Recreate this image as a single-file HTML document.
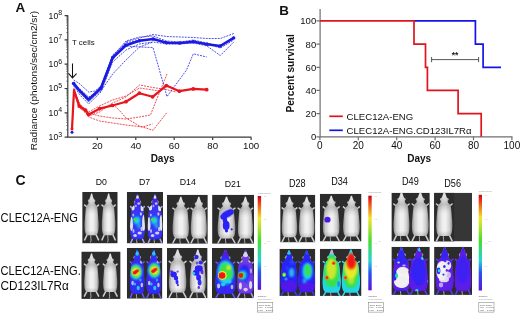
<!DOCTYPE html><html><head><meta charset="utf-8"><title>Figure</title>
<style>html,body{margin:0;padding:0;background:#fff;overflow:hidden;width:520px;height:313px;}svg{display:block;font-family:"Liberation Sans", Arial, sans-serif;}</style></head><body>
<svg width="520" height="313" viewBox="0 0 520 313">
<defs>
<filter id="b03" x="-20%" y="-20%" width="140%" height="140%"><feGaussianBlur stdDeviation="0.3"/></filter>
<filter id="b05" x="-20%" y="-20%" width="140%" height="140%"><feGaussianBlur stdDeviation="0.5"/></filter>
<filter id="b1" x="-30%" y="-30%" width="160%" height="160%"><feGaussianBlur stdDeviation="0.9"/></filter>
<filter id="b2" x="-40%" y="-40%" width="180%" height="180%"><feGaussianBlur stdDeviation="1.6"/></filter>
<linearGradient id="mg" x1="0" y1="0" x2="1" y2="0"><stop offset="0" stop-color="#8a8a8a"/><stop offset="0.16" stop-color="#cccccc"/><stop offset="0.42" stop-color="#f0f0f0"/><stop offset="0.6" stop-color="#f0f0f0"/><stop offset="0.84" stop-color="#cccccc"/><stop offset="1" stop-color="#8a8a8a"/></linearGradient>
<linearGradient id="ms" x1="0" y1="0" x2="0" y2="1"><stop offset="0" stop-color="#000" stop-opacity="0.04"/><stop offset="0.16" stop-color="#000" stop-opacity="0.10"/><stop offset="0.28" stop-color="#000" stop-opacity="0.20"/><stop offset="0.42" stop-color="#000" stop-opacity="0.05"/><stop offset="0.5" stop-color="#000" stop-opacity="0"/><stop offset="0.88" stop-color="#000" stop-opacity="0"/><stop offset="1" stop-color="#000" stop-opacity="0.16"/></linearGradient>
<linearGradient id="cb" x1="0" y1="0" x2="0" y2="1">
<stop offset="0" stop-color="#b80c10"/><stop offset="0.03" stop-color="#e41418"/><stop offset="0.12" stop-color="#f0701e"/><stop offset="0.24" stop-color="#f0e628"/><stop offset="0.36" stop-color="#a0e030"/><stop offset="0.48" stop-color="#46dc32"/><stop offset="0.6" stop-color="#30d890"/><stop offset="0.69" stop-color="#28d2d8"/><stop offset="0.82" stop-color="#2850f0"/><stop offset="1" stop-color="#5a14dc"/></linearGradient>

</defs>
<rect width="520" height="313" fill="#fff"/>
<text x="15.6" y="12.2" font-size="13.5" font-weight="700" fill="#111">A</text>
<text x="279.3" y="14.8" font-size="13.4" font-weight="700" fill="#111">B</text>
<text x="15.6" y="185" font-size="14" font-weight="700" fill="#111">C</text>
<g id="panelA">
<g stroke="#3a3a3a" stroke-width="1.2" fill="none">
<path d="M67.8,15.2 V137.2 H251.4"/>
<path d="M64.6,137.1 H67.8 M64.6,112.8 H67.8 M64.6,88.5 H67.8 M64.6,64.2 H67.8 M64.6,39.9 H67.8 M64.6,15.6 H67.8 "/>
<path d="M66.0,129.8 H67.8 M66.0,125.5 H67.8 M66.0,122.5 H67.8 M66.0,120.1 H67.8 M66.0,118.2 H67.8 M66.0,116.6 H67.8 M66.0,115.2 H67.8 M66.0,113.9 H67.8 M66.0,105.5 H67.8 M66.0,101.2 H67.8 M66.0,98.2 H67.8 M66.0,95.8 H67.8 M66.0,93.9 H67.8 M66.0,92.3 H67.8 M66.0,90.9 H67.8 M66.0,89.6 H67.8 M66.0,81.2 H67.8 M66.0,76.9 H67.8 M66.0,73.9 H67.8 M66.0,71.5 H67.8 M66.0,69.6 H67.8 M66.0,68.0 H67.8 M66.0,66.6 H67.8 M66.0,65.3 H67.8 M66.0,56.9 H67.8 M66.0,52.6 H67.8 M66.0,49.6 H67.8 M66.0,47.2 H67.8 M66.0,45.3 H67.8 M66.0,43.7 H67.8 M66.0,42.3 H67.8 M66.0,41.0 H67.8 M66.0,32.6 H67.8 M66.0,28.3 H67.8 M66.0,25.3 H67.8 M66.0,22.9 H67.8 M66.0,21.0 H67.8 M66.0,19.4 H67.8 M66.0,18.0 H67.8 M66.0,16.7 H67.8 " stroke-width="0.5"/>
<path d="M97.3,137.2 V140.1 M135.8,137.2 V140.1 M174.2,137.2 V140.1 M212.7,137.2 V140.1 M251.1,137.2 V140.1 "/>
</g>
<text x="48.6" y="140.0" font-size="9.5" fill="#111" textLength="9.6" lengthAdjust="spacingAndGlyphs">10</text><text x="58.3" y="136.5" font-size="7" fill="#111">3</text>
<text x="48.6" y="115.7" font-size="9.5" fill="#111" textLength="9.6" lengthAdjust="spacingAndGlyphs">10</text><text x="58.3" y="112.2" font-size="7" fill="#111">4</text>
<text x="48.6" y="91.4" font-size="9.5" fill="#111" textLength="9.6" lengthAdjust="spacingAndGlyphs">10</text><text x="58.3" y="87.9" font-size="7" fill="#111">5</text>
<text x="48.6" y="67.1" font-size="9.5" fill="#111" textLength="9.6" lengthAdjust="spacingAndGlyphs">10</text><text x="58.3" y="63.6" font-size="7" fill="#111">6</text>
<text x="48.6" y="42.8" font-size="9.5" fill="#111" textLength="9.6" lengthAdjust="spacingAndGlyphs">10</text><text x="58.3" y="39.3" font-size="7" fill="#111">7</text>
<text x="48.6" y="18.5" font-size="9.5" fill="#111" textLength="9.6" lengthAdjust="spacingAndGlyphs">10</text><text x="58.3" y="15.0" font-size="7" fill="#111">8</text>
<text x="97.3" y="149.4" font-size="9.7" fill="#111" text-anchor="middle">20</text>
<text x="135.8" y="149.4" font-size="9.7" fill="#111" text-anchor="middle">40</text>
<text x="174.2" y="149.4" font-size="9.7" fill="#111" text-anchor="middle">60</text>
<text x="212.7" y="149.4" font-size="9.7" fill="#111" text-anchor="middle">80</text>
<text x="251.1" y="149.4" font-size="9.7" fill="#111" text-anchor="middle">100</text>
<text x="162.6" y="161.5" font-size="10" font-weight="700" fill="#111" text-anchor="middle">Days</text>
<text transform="translate(37.2,150.3) scale(0.9,1) rotate(-90)" font-size="10.08" fill="#111">Radiance (photons/sec/cm2/sr)</text>
<text x="72" y="45.1" font-size="7.9" fill="#111">T cells</text>
<path d="M72.5,63.4 V77.4 M68.5,73.3 L72.5,77.9 L76.5,73.6" stroke="#111" stroke-width="1.05" fill="none"/>
<path d="M72.0,129.0 L74.0,88.0 L79.0,104.0 L88.6,116.0 L99.5,112.0 L112.5,103.0 L126.0,97.0 L139.5,85.0 L153.0,87.5 L166.0,89.5 L176.0,92.0" stroke="#e8141e" stroke-width="0.75" fill="none" stroke-linejoin="round" stroke-linecap="butt" stroke-dasharray="2 1" opacity="1"/>
<path d="M74.0,92.0 L79.0,108.0 L88.6,112.0 L99.5,106.0 L112.5,100.0 L126.0,96.0 L139.5,88.0 L153.0,90.0 L160.0,91.0" stroke="#e8141e" stroke-width="0.75" fill="none" stroke-linejoin="round" stroke-linecap="butt" stroke-dasharray="2 1" opacity="1"/>
<path d="M74.0,90.0 L80.0,106.0 L88.6,117.0 L99.5,121.0 L112.5,123.0 L126.0,125.0 L142.8,127.0 L152.5,124.0" stroke="#e8141e" stroke-width="0.75" fill="none" stroke-linejoin="round" stroke-linecap="butt" stroke-dasharray="2 1" opacity="1"/>
<path d="M74.0,91.0 L80.0,104.0 L88.6,113.0 L99.5,116.0 L112.5,118.0 L126.0,119.0 L139.5,117.0 L150.5,115.0 L155.6,102.0 L167.0,74.0" stroke="#e8141e" stroke-width="0.75" fill="none" stroke-linejoin="round" stroke-linecap="butt" stroke-dasharray="2 1" opacity="1"/>
<path d="M74.0,93.0 L80.0,108.0 L88.6,115.0 L99.5,110.0 L112.5,104.0 L119.0,110.0 L126.0,118.0 L139.5,126.0 L153.0,130.3 L167.0,112.4" stroke="#e8141e" stroke-width="0.75" fill="none" stroke-linejoin="round" stroke-linecap="butt" stroke-dasharray="2 1" opacity="1"/>
<path d="M73.6,82.0 L79.0,88.0 L88.6,97.0 L101.0,90.0 L112.7,60.0 L126.0,42.0 L139.5,38.0 L153.0,34.5 L166.5,36.5 L180.0,37.0 L193.4,37.5 L207.0,38.5 L220.3,38.5 L233.8,33.5" stroke="#1a1ae0" stroke-width="0.75" fill="none" stroke-linejoin="round" stroke-linecap="butt" stroke-dasharray="2 1" opacity="1"/>
<path d="M73.6,80.0 L80.0,84.0 L88.6,92.0 L95.0,91.0 L101.0,86.0 L112.7,56.0 L126.0,41.0 L139.5,37.0 L153.0,36.0 L166.5,41.0 L180.0,42.0 L193.4,40.0 L207.0,43.0 L220.3,47.0 L233.8,37.0" stroke="#1a1ae0" stroke-width="0.75" fill="none" stroke-linejoin="round" stroke-linecap="butt" stroke-dasharray="2 1" opacity="1"/>
<path d="M73.6,86.0 L80.0,95.0 L88.6,104.0 L101.0,92.0 L112.7,62.0 L126.0,50.0 L139.5,44.0 L153.0,42.0 L166.5,44.0 L180.0,44.0 L193.4,43.0 L207.0,46.0 L220.3,55.5 L233.8,42.0" stroke="#1a1ae0" stroke-width="0.75" fill="none" stroke-linejoin="round" stroke-linecap="butt" stroke-dasharray="2 1" opacity="1"/>
<path d="M73.6,84.0 L80.0,92.0 L88.6,102.0 L101.0,89.0 L112.7,58.0 L126.0,46.0 L139.5,47.0 L153.0,47.5 L167.0,96.6 L186.5,70.0 L193.3,53.8 L206.7,57.0" stroke="#1a1ae0" stroke-width="0.75" fill="none" stroke-linejoin="round" stroke-linecap="butt" stroke-dasharray="2 1" opacity="1"/>
<path d="M73.6,85.0 L80.0,93.0 L88.6,101.0 L101.0,91.0 L112.7,74.0 L126.0,60.0 L139.5,47.0 L153.0,42.0" stroke="#1a1ae0" stroke-width="0.75" fill="none" stroke-linejoin="round" stroke-linecap="butt" stroke-dasharray="2 1" opacity="1"/>
<path d="M73.6,83.0 L80.0,90.0 L88.6,98.0 L101.0,87.0 L112.7,55.0 L126.0,43.0 L139.5,40.0 L153.0,39.0 L166.5,42.0 L180.0,43.5 L193.4,42.0 L207.0,44.0 L220.3,48.0 L233.8,40.0" stroke="#1a1ae0" stroke-width="0.75" fill="none" stroke-linejoin="round" stroke-linecap="butt" stroke-dasharray="2 1" opacity="1"/>
<path d="M73.6,83.5 L79.0,90.0 L88.6,99.6 L101.0,88.0 L112.6,57.7 L126.0,45.2 L139.4,40.8 L153.2,39.0 L166.4,42.7 L179.8,43.0 L193.3,41.7 L207.2,44.2 L220.2,46.0 L233.7,37.9" stroke="#1a1ae0" stroke-width="2.6" fill="none" stroke-linejoin="round" stroke-linecap="round" opacity="1"/>
<circle cx="101" cy="88" r="1.7" fill="#1a1ae0"/>
<circle cx="112.6" cy="57.7" r="1.7" fill="#1a1ae0"/>
<circle cx="126" cy="45.2" r="1.7" fill="#1a1ae0"/>
<circle cx="139.4" cy="40.8" r="1.7" fill="#1a1ae0"/>
<circle cx="153.2" cy="39" r="1.7" fill="#1a1ae0"/>
<circle cx="166.4" cy="42.7" r="1.7" fill="#1a1ae0"/>
<circle cx="179.8" cy="43" r="1.7" fill="#1a1ae0"/>
<circle cx="193.3" cy="41.7" r="1.7" fill="#1a1ae0"/>
<circle cx="207.2" cy="44.2" r="1.7" fill="#1a1ae0"/>
<circle cx="220.2" cy="46" r="1.7" fill="#1a1ae0"/>
<circle cx="233.7" cy="37.9" r="1.7" fill="#1a1ae0"/>
<circle cx="73.6" cy="83.5" r="1.8" fill="#1a1ae0"/>
<path d="M72.0,129.0 L74.0,90.2 L79.2,106.0 L85.6,110.0 L88.6,114.5 L99.6,108.6 L112.4,105.5 L126.0,101.7 L139.4,93.2 L152.6,96.8 L166.3,85.6 L179.4,91.2 L193.2,88.9 L206.7,89.7" stroke="#e8141e" stroke-width="2.2" fill="none" stroke-linejoin="round" stroke-linecap="round" opacity="1"/>
<circle cx="79.2" cy="106" r="1.85" fill="#e8141e"/>
<circle cx="85.6" cy="110" r="1.85" fill="#e8141e"/>
<circle cx="88.6" cy="114.5" r="1.85" fill="#e8141e"/>
<circle cx="99.6" cy="108.6" r="1.85" fill="#e8141e"/>
<circle cx="112.4" cy="105.5" r="1.85" fill="#e8141e"/>
<circle cx="126" cy="101.7" r="1.85" fill="#e8141e"/>
<circle cx="139.4" cy="93.2" r="1.85" fill="#e8141e"/>
<circle cx="152.6" cy="96.8" r="1.85" fill="#e8141e"/>
<circle cx="166.3" cy="85.6" r="1.85" fill="#e8141e"/>
<circle cx="179.4" cy="91.2" r="1.85" fill="#e8141e"/>
<circle cx="193.2" cy="88.9" r="1.85" fill="#e8141e"/>
<circle cx="206.7" cy="89.7" r="1.85" fill="#e8141e"/>
<circle cx="72" cy="132.2" r="1.5" fill="#1a1ae0"/>
<circle cx="72" cy="129" r="1.5" fill="#e8141e"/>
</g>
<g id="panelB">
<g stroke="#707070" stroke-width="1.2" fill="none">
<path d="M320.09999999999997,9.0 V136.8 H512.4"/>
<path d="M316.5,136.8 H319.9 M316.5,113.6 H319.9 M316.5,90.4 H319.9 M316.5,67.3 H319.9 M316.5,44.1 H319.9 M316.5,20.9 H319.9 M319.9,136.8 V140.20000000000002 M358.3,136.8 V140.20000000000002 M396.7,136.8 V140.20000000000002 M435.1,136.8 V140.20000000000002 M473.5,136.8 V140.20000000000002 M511.9,136.8 V140.20000000000002 "/>
</g>
<text x="316.2" y="140.2" font-size="9.5" fill="#111" text-anchor="end">0</text>
<text x="316.2" y="117.0" font-size="9.5" fill="#111" text-anchor="end">20</text>
<text x="316.2" y="93.8" font-size="9.5" fill="#111" text-anchor="end">40</text>
<text x="316.2" y="70.7" font-size="9.5" fill="#111" text-anchor="end">60</text>
<text x="316.2" y="47.5" font-size="9.5" fill="#111" text-anchor="end">80</text>
<text x="316.2" y="24.3" font-size="9.5" fill="#111" text-anchor="end">100</text>
<text x="319.9" y="149.2" font-size="10" fill="#111" text-anchor="middle">0</text>
<text x="358.3" y="149.2" font-size="10" fill="#111" text-anchor="middle">20</text>
<text x="396.7" y="149.2" font-size="10" fill="#111" text-anchor="middle">40</text>
<text x="435.1" y="149.2" font-size="10" fill="#111" text-anchor="middle">60</text>
<text x="473.5" y="149.2" font-size="10" fill="#111" text-anchor="middle">80</text>
<text x="511.9" y="149.2" font-size="10" fill="#111" text-anchor="middle">100</text>
<text x="419.2" y="161.8" font-size="10" font-weight="700" fill="#111" text-anchor="middle">Days</text>
<text transform="translate(294,73.4) rotate(-90)" font-size="10.15" font-weight="700" fill="#111" text-anchor="middle">Percent survival</text>
<path d="M414.0,20.9 L475.4,20.9 L475.4,44.1 L483.1,44.1 L483.1,67.3 L501.0,67.3" stroke="#1414e6" stroke-width="1.7" fill="none"/>
<path d="M319.9,20.9 L414.0,20.9 L414.0,44.1 L425.5,44.1 L425.5,67.3 L427.4,67.3 L427.4,90.4 L458.1,90.4 L458.1,113.6 L481.2,113.6 L481.2,136.8" stroke="#e0141e" stroke-width="1.7" fill="none"/>
<path d="M431.6,59.6 H478.6 M431.6,57 V62.2 M478.6,57 V62.2" stroke="#444" stroke-width="0.9" fill="none"/>
<text x="455" y="58.2" font-size="8.5" font-weight="700" fill="#222" text-anchor="middle">**</text>
<path d="M329.3,116.3 H342.8" stroke="#e0141e" stroke-width="1.7"/>
<path d="M329.3,130.3 H342.8" stroke="#1414e6" stroke-width="1.7"/>
<text x="346.6" y="120.3" font-size="9.6" fill="#111">CLEC12A-ENG</text>
<text x="346.6" y="134.4" font-size="9.6" fill="#111">CLEC12A-ENG.CD123IL7Rα</text>
</g>
<g id="panelC">
<text x="0.6" y="221.7" font-size="12.2" fill="#0a0a0a" textLength="77.4" lengthAdjust="spacingAndGlyphs">CLEC12A-ENG</text>
<text x="0.6" y="274.7" font-size="12.2" fill="#0a0a0a" textLength="80.2" lengthAdjust="spacingAndGlyphs">CLEC12A-ENG.</text>
<text x="0.6" y="290.2" font-size="12.2" fill="#0a0a0a" textLength="68.2" lengthAdjust="spacingAndGlyphs">CD123IL7Rα</text>
<text x="95.7" y="185.2" font-size="9.8" fill="#0a0a0a" textLength="11.2" lengthAdjust="spacingAndGlyphs">D0</text>
<text x="138.9" y="185.2" font-size="9.8" fill="#0a0a0a" textLength="11.2" lengthAdjust="spacingAndGlyphs">D7</text>
<text x="179.7" y="185.2" font-size="9.8" fill="#0a0a0a" textLength="16.2" lengthAdjust="spacingAndGlyphs">D14</text>
<text x="224.7" y="186.6" font-size="9.8" fill="#0a0a0a" textLength="16.2" lengthAdjust="spacingAndGlyphs">D21</text>
<text x="288.9" y="186.5" font-size="10.5" fill="#0a0a0a" textLength="16.7" lengthAdjust="spacingAndGlyphs">D28</text>
<text x="331.2" y="185.3" font-size="10.5" fill="#0a0a0a" textLength="16.7" lengthAdjust="spacingAndGlyphs">D34</text>
<text x="402.0" y="185.3" font-size="10.5" fill="#0a0a0a" textLength="16.7" lengthAdjust="spacingAndGlyphs">D49</text>
<text x="444.3" y="186.5" font-size="10.5" fill="#0a0a0a" textLength="16.7" lengthAdjust="spacingAndGlyphs">D56</text>
<clipPath id="f1"><rect x="82.2" y="192" width="35.5" height="51.4"/></clipPath>
<g clip-path="url(#f1)">
<rect x="82.2" y="192" width="35.5" height="51.4" fill="#2c2c2c"/>
<g filter="url(#b05)">
<path d="M90.9,235.3 C90.2,237.8 91.9,239.5 90.5,242.4" stroke="#bdbdbd" stroke-width="0.9" fill="none"/>
<path d="M86.8,206.9 L84.7,205.1 M96.4,206.9 L98.5,205.1" stroke="#cfcfcf" stroke-width="1.5" stroke-linecap="round"/>
<path d="M87.4,234.0 L84.7,239.9 M95.8,234.0 L98.5,239.9" stroke="#cfcfcf" stroke-width="1.5" stroke-linecap="round"/>
<ellipse cx="89.1" cy="200.7" rx="1.2" ry="1.5" fill="#b4b4b4"/><ellipse cx="94.1" cy="200.7" rx="1.2" ry="1.5" fill="#b4b4b4"/>
<path d="M91.04,193.60 L92.16,193.60 C92.44,195.69 93.35,197.77 94.12,199.85 C94.68,201.52 94.40,202.77 94.89,204.03 C95.66,204.86 96.92,205.48 97.41,208.19 C97.90,211.95 98.11,216.53 98.53,221.12 C98.88,225.29 98.60,229.46 98.11,231.96 C97.55,234.47 96.50,235.30 94.40,235.30 L88.80,235.30 C86.70,235.30 85.65,234.47 85.09,231.96 C84.60,229.46 84.32,225.29 84.67,221.12 C85.09,216.53 85.30,211.95 85.79,208.19 C86.28,205.48 87.54,204.86 88.31,204.03 C88.80,202.77 88.52,201.52 89.08,199.85 C89.85,197.77 90.76,195.69 91.11,193.60 Z" fill="url(#mg)"/>
<path d="M91.04,193.60 L92.16,193.60 C92.44,195.69 93.35,197.77 94.12,199.85 C94.68,201.52 94.40,202.77 94.89,204.03 C95.66,204.86 96.92,205.48 97.41,208.19 C97.90,211.95 98.11,216.53 98.53,221.12 C98.88,225.29 98.60,229.46 98.11,231.96 C97.55,234.47 96.50,235.30 94.40,235.30 L88.80,235.30 C86.70,235.30 85.65,234.47 85.09,231.96 C84.60,229.46 84.32,225.29 84.67,221.12 C85.09,216.53 85.30,211.95 85.79,208.19 C86.28,205.48 87.54,204.86 88.31,204.03 C88.80,202.77 88.52,201.52 89.08,199.85 C89.85,197.77 90.76,195.69 91.11,193.60 Z" fill="url(#ms)"/>
</g>
<g filter="url(#b05)">
<path d="M107.9,235.3 C107.3,237.8 108.9,239.5 107.6,242.4" stroke="#bdbdbd" stroke-width="0.9" fill="none"/>
<path d="M104.0,206.9 L102.0,205.1 M113.2,206.9 L115.2,205.1" stroke="#cfcfcf" stroke-width="1.5" stroke-linecap="round"/>
<path d="M104.6,234.0 L102.0,239.9 M112.6,234.0 L115.2,239.9" stroke="#cfcfcf" stroke-width="1.5" stroke-linecap="round"/>
<ellipse cx="106.2" cy="200.7" rx="1.1" ry="1.5" fill="#b4b4b4"/><ellipse cx="111.0" cy="200.7" rx="1.1" ry="1.5" fill="#b4b4b4"/>
<path d="M108.06,193.60 L109.14,193.60 C109.40,195.69 110.27,197.77 111.01,199.85 C111.55,201.52 111.28,202.77 111.75,204.03 C112.49,204.86 113.69,205.48 114.16,208.19 C114.63,211.95 114.83,216.53 115.23,221.12 C115.57,225.29 115.30,229.46 114.83,231.96 C114.29,234.47 113.29,235.30 111.28,235.30 L105.92,235.30 C103.91,235.30 102.91,234.47 102.37,231.96 C101.90,229.46 101.63,225.29 101.97,221.12 C102.37,216.53 102.57,211.95 103.04,208.19 C103.51,205.48 104.71,204.86 105.45,204.03 C105.92,202.77 105.65,201.52 106.19,199.85 C106.92,197.77 107.80,195.69 108.13,193.60 Z" fill="url(#mg)"/>
<path d="M108.06,193.60 L109.14,193.60 C109.40,195.69 110.27,197.77 111.01,199.85 C111.55,201.52 111.28,202.77 111.75,204.03 C112.49,204.86 113.69,205.48 114.16,208.19 C114.63,211.95 114.83,216.53 115.23,221.12 C115.57,225.29 115.30,229.46 114.83,231.96 C114.29,234.47 113.29,235.30 111.28,235.30 L105.92,235.30 C103.91,235.30 102.91,234.47 102.37,231.96 C101.90,229.46 101.63,225.29 101.97,221.12 C102.37,216.53 102.57,211.95 103.04,208.19 C103.51,205.48 104.71,204.86 105.45,204.03 C105.92,202.77 105.65,201.52 106.19,199.85 C106.92,197.77 107.80,195.69 108.13,193.60 Z" fill="url(#ms)"/>
</g>
</g>
<clipPath id="f2"><rect x="126.8" y="192" width="36.2" height="51.4"/></clipPath>
<g clip-path="url(#f2)">
<rect x="126.8" y="192" width="36.2" height="51.4" fill="#2c2c2c"/>
<g filter="url(#b05)">
<path d="M136.8,238.5 C136.1,241.1 137.8,242.9 136.4,246.0" stroke="#bdbdbd" stroke-width="0.9" fill="none"/>
<path d="M132.7,208.6 L130.6,206.6 M142.3,208.6 L144.4,206.6" stroke="#b0a4e8" stroke-width="1.5" stroke-linecap="round"/>
<path d="M133.3,237.2 L130.6,243.3 M141.7,237.2 L144.4,243.3" stroke="#b0a4e8" stroke-width="1.5" stroke-linecap="round"/>
<ellipse cx="135.0" cy="202.0" rx="1.2" ry="1.5" fill="#b4b4b4"/><ellipse cx="140.0" cy="202.0" rx="1.2" ry="1.5" fill="#b4b4b4"/>
<path d="M136.94,194.50 L138.06,194.50 C138.34,196.70 139.25,198.90 140.02,201.10 C140.58,202.86 140.30,204.18 140.79,205.50 C141.56,206.38 142.82,207.04 143.31,209.90 C143.80,213.86 144.01,218.70 144.43,223.54 C144.78,227.94 144.50,232.34 144.01,234.98 C143.45,237.62 142.40,238.50 140.30,238.50 L134.70,238.50 C132.60,238.50 131.55,237.62 130.99,234.98 C130.50,232.34 130.22,227.94 130.57,223.54 C130.99,218.70 131.20,213.86 131.69,209.90 C132.18,207.04 133.44,206.38 134.21,205.50 C134.70,204.18 134.42,202.86 134.98,201.10 C135.75,198.90 136.66,196.70 137.01,194.50 Z" fill="url(#mg)"/>
<path d="M136.94,194.50 L138.06,194.50 C138.34,196.70 139.25,198.90 140.02,201.10 C140.58,202.86 140.30,204.18 140.79,205.50 C141.56,206.38 142.82,207.04 143.31,209.90 C143.80,213.86 144.01,218.70 144.43,223.54 C144.78,227.94 144.50,232.34 144.01,234.98 C143.45,237.62 142.40,238.50 140.30,238.50 L134.70,238.50 C132.60,238.50 131.55,237.62 130.99,234.98 C130.50,232.34 130.22,227.94 130.57,223.54 C130.99,218.70 131.20,213.86 131.69,209.90 C132.18,207.04 133.44,206.38 134.21,205.50 C134.70,204.18 134.42,202.86 134.98,201.10 C135.75,198.90 136.66,196.70 137.01,194.50 Z" fill="url(#ms)"/>
</g>
<clipPath id="m1"><path d="M136.91,193.67 L138.09,193.67 C138.38,196.16 139.34,198.42 140.15,200.68 C140.73,202.49 140.44,203.84 140.95,205.20 C141.76,206.10 143.09,206.78 143.60,209.72 C144.12,213.79 144.34,218.76 144.78,223.73 C145.14,228.25 144.85,232.77 144.34,235.48 C143.75,238.20 142.65,239.55 140.44,239.55 L134.56,239.55 C132.35,239.55 131.25,238.20 130.66,235.48 C130.15,232.77 129.86,228.25 130.22,223.73 C130.66,218.76 130.88,213.79 131.40,209.72 C131.91,206.78 133.24,206.10 134.05,205.20 C134.56,203.84 134.27,202.49 134.85,200.68 C135.66,198.42 136.62,196.16 136.99,193.90 Z"/></clipPath>
<g clip-path="url(#m1)" filter="url(#b03)">
<rect x="128.4" y="192.5" width="18.2" height="55.0" fill="#2a22f6" opacity="0.9"/>
<ellipse cx="137.5" cy="197.2" rx="1.3" ry="2.0" fill="#ececec" filter="url(#b05)" opacity="0.9"/>
<ellipse cx="132.9" cy="207.5" rx="1.7" ry="3.0" fill="#ececec" filter="url(#b05)" opacity="0.95"/>
<ellipse cx="142.3" cy="208" rx="1.7" ry="3.2" fill="#ececec" filter="url(#b05)" opacity="0.95"/>
<ellipse cx="138.7" cy="203.5" rx="1.3" ry="1.3" fill="#ececec" filter="url(#b05)" opacity="0.8"/>
<ellipse cx="135.9" cy="206" rx="1.0" ry="1.2" fill="#ececec" filter="url(#b05)" opacity="0.6"/>
<ellipse cx="131.5" cy="224" rx="1.6" ry="7" fill="#ececec" filter="url(#b05)" opacity="0.95"/>
<ellipse cx="143.7" cy="223" rx="1.7" ry="8" fill="#ececec" filter="url(#b05)" opacity="0.95"/>
<ellipse cx="139.7" cy="233" rx="2.2" ry="1.6" fill="#ececec" filter="url(#b05)" opacity="0.85"/>
<ellipse cx="135.1" cy="235.5" rx="1.8" ry="1.6" fill="#ececec" filter="url(#b05)" opacity="0.85"/>
<ellipse cx="140.9" cy="214" rx="1.1" ry="1.8" fill="#ececec" filter="url(#b05)" opacity="0.8"/>
<ellipse cx="133.3" cy="215" rx="1.0" ry="1.6" fill="#ececec" filter="url(#b05)" opacity="0.7"/>
<ellipse cx="141.7" cy="229" rx="1.2" ry="2.2" fill="#ececec" filter="url(#b05)" opacity="0.8"/>
<ellipse cx="133.5" cy="231" rx="1.0" ry="2" fill="#ececec" filter="url(#b05)" opacity="0.7"/>
<ellipse cx="137.5" cy="200.4" rx="2.0" ry="2.0" fill="#5a18e8" filter="url(#b05)" opacity="0.8"/>
<ellipse cx="137.2" cy="221" rx="4.0" ry="5.4" fill="#1a50ff" filter="url(#b1)" opacity="0.95"/>
<ellipse cx="136.9" cy="220.5" rx="3.2" ry="3.8" fill="#22d6ea" filter="url(#b1)" opacity="0.95"/>
<ellipse cx="135.3" cy="219.6" rx="1.8" ry="1.8" fill="#38e048" filter="url(#b05)" opacity="1"/>
<ellipse cx="139.0" cy="226" rx="1.6" ry="2.4" fill="#22d6ea" filter="url(#b1)" opacity="0.8"/>
</g>
<g filter="url(#b05)">
<path d="M154.3,238.5 C153.6,241.1 155.3,242.9 153.9,246.0" stroke="#bdbdbd" stroke-width="0.9" fill="none"/>
<path d="M150.2,208.6 L148.1,206.6 M159.8,208.6 L161.9,206.6" stroke="#b0a4e8" stroke-width="1.5" stroke-linecap="round"/>
<path d="M150.8,237.2 L148.1,243.3 M159.2,237.2 L161.9,243.3" stroke="#b0a4e8" stroke-width="1.5" stroke-linecap="round"/>
<ellipse cx="152.5" cy="202.0" rx="1.2" ry="1.5" fill="#b4b4b4"/><ellipse cx="157.5" cy="202.0" rx="1.2" ry="1.5" fill="#b4b4b4"/>
<path d="M154.44,194.50 L155.56,194.50 C155.84,196.70 156.75,198.90 157.52,201.10 C158.08,202.86 157.80,204.18 158.29,205.50 C159.06,206.38 160.32,207.04 160.81,209.90 C161.30,213.86 161.51,218.70 161.93,223.54 C162.28,227.94 162.00,232.34 161.51,234.98 C160.95,237.62 159.90,238.50 157.80,238.50 L152.20,238.50 C150.10,238.50 149.05,237.62 148.49,234.98 C148.00,232.34 147.72,227.94 148.07,223.54 C148.49,218.70 148.70,213.86 149.19,209.90 C149.68,207.04 150.94,206.38 151.71,205.50 C152.20,204.18 151.92,202.86 152.48,201.10 C153.25,198.90 154.16,196.70 154.51,194.50 Z" fill="url(#mg)"/>
<path d="M154.44,194.50 L155.56,194.50 C155.84,196.70 156.75,198.90 157.52,201.10 C158.08,202.86 157.80,204.18 158.29,205.50 C159.06,206.38 160.32,207.04 160.81,209.90 C161.30,213.86 161.51,218.70 161.93,223.54 C162.28,227.94 162.00,232.34 161.51,234.98 C160.95,237.62 159.90,238.50 157.80,238.50 L152.20,238.50 C150.10,238.50 149.05,237.62 148.49,234.98 C148.00,232.34 147.72,227.94 148.07,223.54 C148.49,218.70 148.70,213.86 149.19,209.90 C149.68,207.04 150.94,206.38 151.71,205.50 C152.20,204.18 151.92,202.86 152.48,201.10 C153.25,198.90 154.16,196.70 154.51,194.50 Z" fill="url(#ms)"/>
</g>
<clipPath id="m2"><path d="M154.41,193.67 L155.59,193.67 C155.88,196.16 156.84,198.42 157.65,200.68 C158.23,202.49 157.94,203.84 158.45,205.20 C159.26,206.10 160.59,206.78 161.10,209.72 C161.62,213.79 161.84,218.76 162.28,223.73 C162.64,228.25 162.35,232.77 161.84,235.48 C161.25,238.20 160.15,239.55 157.94,239.55 L152.06,239.55 C149.85,239.55 148.75,238.20 148.16,235.48 C147.65,232.77 147.36,228.25 147.72,223.73 C148.16,218.76 148.38,213.79 148.90,209.72 C149.41,206.78 150.74,206.10 151.55,205.20 C152.06,203.84 151.77,202.49 152.35,200.68 C153.16,198.42 154.12,196.16 154.49,193.90 Z"/></clipPath>
<g clip-path="url(#m2)" filter="url(#b03)">
<rect x="145.9" y="192.5" width="18.2" height="55.0" fill="#2a22f6" opacity="0.9"/>
<ellipse cx="155.0" cy="197.2" rx="1.3" ry="2.0" fill="#ececec" filter="url(#b05)" opacity="0.9"/>
<ellipse cx="150.4" cy="207.5" rx="1.7" ry="3.0" fill="#ececec" filter="url(#b05)" opacity="0.95"/>
<ellipse cx="159.8" cy="208" rx="1.7" ry="3.2" fill="#ececec" filter="url(#b05)" opacity="0.95"/>
<ellipse cx="156.2" cy="203.5" rx="1.3" ry="1.3" fill="#ececec" filter="url(#b05)" opacity="0.8"/>
<ellipse cx="153.4" cy="206" rx="1.0" ry="1.2" fill="#ececec" filter="url(#b05)" opacity="0.6"/>
<ellipse cx="149.0" cy="224" rx="1.6" ry="7" fill="#ececec" filter="url(#b05)" opacity="0.95"/>
<ellipse cx="161.2" cy="223" rx="1.7" ry="8" fill="#ececec" filter="url(#b05)" opacity="0.95"/>
<ellipse cx="157.2" cy="233" rx="2.2" ry="1.6" fill="#ececec" filter="url(#b05)" opacity="0.85"/>
<ellipse cx="152.6" cy="235.5" rx="1.8" ry="1.6" fill="#ececec" filter="url(#b05)" opacity="0.85"/>
<ellipse cx="158.4" cy="214" rx="1.1" ry="1.8" fill="#ececec" filter="url(#b05)" opacity="0.8"/>
<ellipse cx="150.8" cy="215" rx="1.0" ry="1.6" fill="#ececec" filter="url(#b05)" opacity="0.7"/>
<ellipse cx="159.2" cy="229" rx="1.2" ry="2.2" fill="#ececec" filter="url(#b05)" opacity="0.8"/>
<ellipse cx="151.0" cy="231" rx="1.0" ry="2" fill="#ececec" filter="url(#b05)" opacity="0.7"/>
<ellipse cx="155.0" cy="200.4" rx="2.0" ry="2.0" fill="#5a18e8" filter="url(#b05)" opacity="0.8"/>
<ellipse cx="154.7" cy="221" rx="4.0" ry="5.4" fill="#1a50ff" filter="url(#b1)" opacity="0.95"/>
<ellipse cx="154.4" cy="220.5" rx="3.2" ry="3.8" fill="#22d6ea" filter="url(#b1)" opacity="0.95"/>
<ellipse cx="152.8" cy="219.6" rx="1.8" ry="1.8" fill="#38e048" filter="url(#b05)" opacity="1"/>
<ellipse cx="156.5" cy="226" rx="1.6" ry="2.4" fill="#22d6ea" filter="url(#b1)" opacity="0.8"/>
</g>
</g>
<clipPath id="f3"><rect x="166.9" y="194.7" width="40.9" height="49.1"/></clipPath>
<g clip-path="url(#f3)">
<rect x="166.9" y="194.7" width="40.9" height="49.1" fill="#2c2c2c"/>
<g filter="url(#b05)">
<path d="M180.0,238.4 C179.2,240.9 181.2,242.6 179.6,245.5" stroke="#bdbdbd" stroke-width="0.9" fill="none"/>
<path d="M175.3,210.0 L172.9,208.2 M186.3,210.0 L188.7,208.2" stroke="#cfcfcf" stroke-width="1.5" stroke-linecap="round"/>
<path d="M175.9,237.1 L172.9,243.0 M185.7,237.1 L188.7,243.0" stroke="#cfcfcf" stroke-width="1.5" stroke-linecap="round"/>
<ellipse cx="177.9" cy="203.8" rx="1.4" ry="1.5" fill="#b4b4b4"/><ellipse cx="183.7" cy="203.8" rx="1.4" ry="1.5" fill="#b4b4b4"/>
<path d="M180.15,196.70 L181.45,196.70 C181.77,198.78 182.83,200.87 183.72,202.95 C184.36,204.62 184.04,205.87 184.61,207.12 C185.50,207.96 186.96,208.58 187.52,211.29 C188.09,215.05 188.33,219.63 188.82,224.22 C189.22,228.39 188.90,232.56 188.33,235.06 C187.69,237.57 186.47,238.40 184.04,238.40 L177.56,238.40 C175.13,238.40 173.92,237.57 173.27,235.06 C172.70,232.56 172.38,228.39 172.78,224.22 C173.27,219.63 173.51,215.05 174.08,211.29 C174.64,208.58 176.10,207.96 176.99,207.12 C177.56,205.87 177.24,204.62 177.88,202.95 C178.78,200.87 179.83,198.78 180.23,196.70 Z" fill="url(#mg)"/>
<path d="M180.15,196.70 L181.45,196.70 C181.77,198.78 182.83,200.87 183.72,202.95 C184.36,204.62 184.04,205.87 184.61,207.12 C185.50,207.96 186.96,208.58 187.52,211.29 C188.09,215.05 188.33,219.63 188.82,224.22 C189.22,228.39 188.90,232.56 188.33,235.06 C187.69,237.57 186.47,238.40 184.04,238.40 L177.56,238.40 C175.13,238.40 173.92,237.57 173.27,235.06 C172.70,232.56 172.38,228.39 172.78,224.22 C173.27,219.63 173.51,215.05 174.08,211.29 C174.64,208.58 176.10,207.96 176.99,207.12 C177.56,205.87 177.24,204.62 177.88,202.95 C178.78,200.87 179.83,198.78 180.23,196.70 Z" fill="url(#ms)"/>
</g>
<g filter="url(#b05)">
<path d="M198.0,238.4 C197.2,240.9 199.2,242.6 197.6,245.5" stroke="#bdbdbd" stroke-width="0.9" fill="none"/>
<path d="M193.4,210.0 L191.1,208.2 M204.2,210.0 L206.5,208.2" stroke="#cfcfcf" stroke-width="1.5" stroke-linecap="round"/>
<path d="M194.1,237.1 L191.1,243.0 M203.5,237.1 L206.5,243.0" stroke="#cfcfcf" stroke-width="1.5" stroke-linecap="round"/>
<ellipse cx="196.0" cy="203.8" rx="1.3" ry="1.5" fill="#b4b4b4"/><ellipse cx="201.6" cy="203.8" rx="1.3" ry="1.5" fill="#b4b4b4"/>
<path d="M198.17,196.70 L199.43,196.70 C199.75,198.78 200.78,200.87 201.64,202.95 C202.28,204.62 201.96,205.87 202.51,207.12 C203.38,207.96 204.80,208.58 205.36,211.29 C205.91,215.05 206.15,219.63 206.62,224.22 C207.02,228.39 206.70,232.56 206.15,235.06 C205.52,237.57 204.33,238.40 201.96,238.40 L195.64,238.40 C193.27,238.40 192.09,237.57 191.45,235.06 C190.90,232.56 190.58,228.39 190.98,224.22 C191.45,219.63 191.69,215.05 192.24,211.29 C192.80,208.58 194.22,207.96 195.09,207.12 C195.64,205.87 195.32,204.62 195.96,202.95 C196.83,200.87 197.85,198.78 198.25,196.70 Z" fill="url(#mg)"/>
<path d="M198.17,196.70 L199.43,196.70 C199.75,198.78 200.78,200.87 201.64,202.95 C202.28,204.62 201.96,205.87 202.51,207.12 C203.38,207.96 204.80,208.58 205.36,211.29 C205.91,215.05 206.15,219.63 206.62,224.22 C207.02,228.39 206.70,232.56 206.15,235.06 C205.52,237.57 204.33,238.40 201.96,238.40 L195.64,238.40 C193.27,238.40 192.09,237.57 191.45,235.06 C190.90,232.56 190.58,228.39 190.98,224.22 C191.45,219.63 191.69,215.05 192.24,211.29 C192.80,208.58 194.22,207.96 195.09,207.12 C195.64,205.87 195.32,204.62 195.96,202.95 C196.83,200.87 197.85,198.78 198.25,196.70 Z" fill="url(#ms)"/>
</g>
</g>
<clipPath id="f4"><rect x="212.1" y="194.7" width="41.9" height="49.1"/></clipPath>
<g clip-path="url(#f4)">
<rect x="212.1" y="194.7" width="41.9" height="49.1" fill="#2c2c2c"/>
<g filter="url(#b05)">
<path d="M225.6,238.4 C224.8,240.9 226.9,242.6 225.2,245.5" stroke="#bdbdbd" stroke-width="0.9" fill="none"/>
<path d="M220.6,210.0 L218.0,208.2 M232.4,210.0 L235.0,208.2" stroke="#cfcfcf" stroke-width="1.5" stroke-linecap="round"/>
<path d="M221.3,237.1 L218.0,243.0 M231.7,237.1 L235.0,243.0" stroke="#cfcfcf" stroke-width="1.5" stroke-linecap="round"/>
<ellipse cx="223.4" cy="203.8" rx="1.5" ry="1.5" fill="#b4b4b4"/><ellipse cx="229.6" cy="203.8" rx="1.5" ry="1.5" fill="#b4b4b4"/>
<path d="M225.80,196.70 L227.20,196.70 C227.54,198.78 228.68,200.87 229.63,202.95 C230.33,204.62 229.98,205.87 230.59,207.12 C231.55,207.96 233.11,208.58 233.72,211.29 C234.33,215.05 234.59,219.63 235.11,224.22 C235.55,228.39 235.20,232.56 234.59,235.06 C233.90,237.57 232.59,238.40 229.98,238.40 L223.02,238.40 C220.41,238.40 219.10,237.57 218.41,235.06 C217.80,232.56 217.45,228.39 217.89,224.22 C218.41,219.63 218.67,215.05 219.28,211.29 C219.89,208.58 221.45,207.96 222.41,207.12 C223.02,205.87 222.67,204.62 223.37,202.95 C224.32,200.87 225.46,198.78 225.89,196.70 Z" fill="url(#mg)"/>
<path d="M225.80,196.70 L227.20,196.70 C227.54,198.78 228.68,200.87 229.63,202.95 C230.33,204.62 229.98,205.87 230.59,207.12 C231.55,207.96 233.11,208.58 233.72,211.29 C234.33,215.05 234.59,219.63 235.11,224.22 C235.55,228.39 235.20,232.56 234.59,235.06 C233.90,237.57 232.59,238.40 229.98,238.40 L223.02,238.40 C220.41,238.40 219.10,237.57 218.41,235.06 C217.80,232.56 217.45,228.39 217.89,224.22 C218.41,219.63 218.67,215.05 219.28,211.29 C219.89,208.58 221.45,207.96 222.41,207.12 C223.02,205.87 222.67,204.62 223.37,202.95 C224.32,200.87 225.46,198.78 225.89,196.70 Z" fill="url(#ms)"/>
</g>
<clipPath id="m3"><path d="M225.77,195.89 L227.23,195.89 C227.60,198.25 228.78,200.39 229.79,202.53 C230.52,204.25 230.15,205.54 230.79,206.82 C231.80,207.68 233.44,208.33 234.08,211.12 C234.72,214.98 235.00,219.69 235.54,224.41 C236.00,228.70 235.63,232.99 235.00,235.57 C234.26,238.14 232.89,239.43 230.15,239.43 L222.85,239.43 C220.11,239.43 218.74,238.14 218.00,235.57 C217.37,232.99 217.00,228.70 217.46,224.41 C218.00,219.69 218.28,214.98 218.92,211.12 C219.56,208.33 221.20,207.68 222.21,206.82 C222.85,205.54 222.48,204.25 223.21,202.53 C224.22,200.39 225.40,198.25 225.86,196.10 Z"/></clipPath>
<g clip-path="url(#m3)" filter="url(#b03)">
<ellipse cx="227.2" cy="214" rx="7.0" ry="3.4" fill="#2a22f6" filter="url(#b05)" opacity="1" transform="rotate(-28 227.2 214)"/>
<ellipse cx="223.6" cy="217.0" rx="3.2" ry="2.8" fill="#2a22f6" filter="url(#b05)" opacity="1"/>
<ellipse cx="230.6" cy="212" rx="3.0" ry="2.6" fill="#2a22f6" filter="url(#b05)" opacity="1"/>
<ellipse cx="226.2" cy="225.4" rx="3.4" ry="4.6" fill="#2a22f6" filter="url(#b05)" opacity="1"/>
<ellipse cx="225" cy="220.4" rx="2.2" ry="2.8" fill="#2a22f6" filter="url(#b05)" opacity="1"/>
<ellipse cx="231.7" cy="229.3" rx="1.1" ry="1.1" fill="#2a22f6" filter="url(#b03)" opacity="1"/>
<ellipse cx="226.5" cy="230.8" rx="1.6" ry="1.8" fill="#2a22f6" filter="url(#b03)" opacity="1"/>
</g>
<g filter="url(#b05)">
<path d="M244.7,238.4 C243.9,240.9 245.8,242.6 244.3,245.5" stroke="#bdbdbd" stroke-width="0.9" fill="none"/>
<path d="M240.4,210.0 L238.1,208.2 M250.4,210.0 L252.7,208.2" stroke="#cfcfcf" stroke-width="1.5" stroke-linecap="round"/>
<path d="M241.0,237.1 L238.1,243.0 M249.8,237.1 L252.7,243.0" stroke="#cfcfcf" stroke-width="1.5" stroke-linecap="round"/>
<ellipse cx="242.7" cy="203.8" rx="1.3" ry="1.5" fill="#b4b4b4"/><ellipse cx="248.1" cy="203.8" rx="1.3" ry="1.5" fill="#b4b4b4"/>
<path d="M244.81,196.70 L245.99,196.70 C246.29,198.78 247.25,200.87 248.06,202.95 C248.66,204.62 248.36,205.87 248.88,207.12 C249.69,207.96 251.02,208.58 251.54,211.29 C252.06,215.05 252.28,219.63 252.73,224.22 C253.10,228.39 252.80,232.56 252.28,235.06 C251.69,237.57 250.58,238.40 248.36,238.40 L242.44,238.40 C240.22,238.40 239.11,237.57 238.52,235.06 C238.00,232.56 237.70,228.39 238.07,224.22 C238.52,219.63 238.74,215.05 239.26,211.29 C239.78,208.58 241.11,207.96 241.92,207.12 C242.44,205.87 242.14,204.62 242.74,202.95 C243.55,200.87 244.51,198.78 244.88,196.70 Z" fill="url(#mg)"/>
<path d="M244.81,196.70 L245.99,196.70 C246.29,198.78 247.25,200.87 248.06,202.95 C248.66,204.62 248.36,205.87 248.88,207.12 C249.69,207.96 251.02,208.58 251.54,211.29 C252.06,215.05 252.28,219.63 252.73,224.22 C253.10,228.39 252.80,232.56 252.28,235.06 C251.69,237.57 250.58,238.40 248.36,238.40 L242.44,238.40 C240.22,238.40 239.11,237.57 238.52,235.06 C238.00,232.56 237.70,228.39 238.07,224.22 C238.52,219.63 238.74,215.05 239.26,211.29 C239.78,208.58 241.11,207.96 241.92,207.12 C242.44,205.87 242.14,204.62 242.74,202.95 C243.55,200.87 244.51,198.78 244.88,196.70 Z" fill="url(#ms)"/>
</g>
</g>
<clipPath id="f5"><rect x="280.2" y="194.7" width="35.1" height="47.7"/></clipPath>
<g clip-path="url(#f5)">
<rect x="280.2" y="194.7" width="35.1" height="47.7" fill="#2c2c2c"/>
<g filter="url(#b05)">
<path d="M288.7,237.3 C288.0,239.7 289.9,241.4 288.4,244.2" stroke="#bdbdbd" stroke-width="0.9" fill="none"/>
<path d="M284.3,209.7 L282.1,207.9 M294.7,209.7 L296.9,207.9" stroke="#cfcfcf" stroke-width="1.5" stroke-linecap="round"/>
<path d="M284.9,236.1 L282.1,241.8 M294.1,236.1 L296.9,241.8" stroke="#cfcfcf" stroke-width="1.5" stroke-linecap="round"/>
<ellipse cx="286.8" cy="203.6" rx="1.3" ry="1.4" fill="#b4b4b4"/><ellipse cx="292.2" cy="203.6" rx="1.3" ry="1.4" fill="#b4b4b4"/>
<path d="M288.89,196.70 L290.11,196.70 C290.41,198.73 291.40,200.76 292.24,202.79 C292.84,204.41 292.54,205.63 293.07,206.85 C293.91,207.66 295.28,208.27 295.81,210.91 C296.34,214.56 296.57,219.03 297.02,223.50 C297.40,227.56 297.10,231.62 296.57,234.05 C295.96,236.49 294.82,237.30 292.54,237.30 L286.46,237.30 C284.18,237.30 283.04,236.49 282.43,234.05 C281.90,231.62 281.60,227.56 281.98,223.50 C282.43,219.03 282.66,214.56 283.19,210.91 C283.72,208.27 285.09,207.66 285.93,206.85 C286.46,205.63 286.16,204.41 286.76,202.79 C287.60,200.76 288.59,198.73 288.97,196.70 Z" fill="url(#mg)"/>
<path d="M288.89,196.70 L290.11,196.70 C290.41,198.73 291.40,200.76 292.24,202.79 C292.84,204.41 292.54,205.63 293.07,206.85 C293.91,207.66 295.28,208.27 295.81,210.91 C296.34,214.56 296.57,219.03 297.02,223.50 C297.40,227.56 297.10,231.62 296.57,234.05 C295.96,236.49 294.82,237.30 292.54,237.30 L286.46,237.30 C284.18,237.30 283.04,236.49 282.43,234.05 C281.90,231.62 281.60,227.56 281.98,223.50 C282.43,219.03 282.66,214.56 283.19,210.91 C283.72,208.27 285.09,207.66 285.93,206.85 C286.46,205.63 286.16,204.41 286.76,202.79 C287.60,200.76 288.59,198.73 288.97,196.70 Z" fill="url(#ms)"/>
</g>
<g filter="url(#b05)">
<path d="M305.9,237.3 C305.2,239.7 307.1,241.4 305.5,244.2" stroke="#bdbdbd" stroke-width="0.9" fill="none"/>
<path d="M301.5,209.7 L299.2,207.9 M311.9,209.7 L314.2,207.9" stroke="#cfcfcf" stroke-width="1.5" stroke-linecap="round"/>
<path d="M302.1,236.1 L299.2,241.8 M311.3,236.1 L314.2,241.8" stroke="#cfcfcf" stroke-width="1.5" stroke-linecap="round"/>
<ellipse cx="303.9" cy="203.6" rx="1.3" ry="1.4" fill="#b4b4b4"/><ellipse cx="309.5" cy="203.6" rx="1.3" ry="1.4" fill="#b4b4b4"/>
<path d="M306.08,196.70 L307.32,196.70 C307.62,198.73 308.62,200.76 309.47,202.79 C310.09,204.41 309.78,205.63 310.32,206.85 C311.17,207.66 312.55,208.27 313.09,210.91 C313.63,214.56 313.86,219.03 314.32,223.50 C314.71,227.56 314.40,231.62 313.86,234.05 C313.25,236.49 312.09,237.30 309.78,237.30 L303.62,237.30 C301.31,237.30 300.15,236.49 299.54,234.05 C299.00,231.62 298.69,227.56 299.08,223.50 C299.54,219.03 299.77,214.56 300.31,210.91 C300.85,208.27 302.23,207.66 303.08,206.85 C303.62,205.63 303.31,204.41 303.93,202.79 C304.77,200.76 305.78,198.73 306.16,196.70 Z" fill="url(#mg)"/>
<path d="M306.08,196.70 L307.32,196.70 C307.62,198.73 308.62,200.76 309.47,202.79 C310.09,204.41 309.78,205.63 310.32,206.85 C311.17,207.66 312.55,208.27 313.09,210.91 C313.63,214.56 313.86,219.03 314.32,223.50 C314.71,227.56 314.40,231.62 313.86,234.05 C313.25,236.49 312.09,237.30 309.78,237.30 L303.62,237.30 C301.31,237.30 300.15,236.49 299.54,234.05 C299.00,231.62 298.69,227.56 299.08,223.50 C299.54,219.03 299.77,214.56 300.31,210.91 C300.85,208.27 302.23,207.66 303.08,206.85 C303.62,205.63 303.31,204.41 303.93,202.79 C304.77,200.76 305.78,198.73 306.16,196.70 Z" fill="url(#ms)"/>
</g>
</g>
<clipPath id="f6"><rect x="319.8" y="193.8" width="41.7" height="47.7"/></clipPath>
<g clip-path="url(#f6)">
<rect x="319.8" y="193.8" width="41.7" height="47.7" fill="#2c2c2c"/>
<g filter="url(#b05)">
<path d="M330.4,236.5 C329.6,238.9 331.6,240.6 330.0,243.4" stroke="#bdbdbd" stroke-width="0.9" fill="none"/>
<path d="M325.6,208.8 L323.2,206.9 M336.8,208.8 L339.2,206.9" stroke="#cfcfcf" stroke-width="1.5" stroke-linecap="round"/>
<path d="M326.3,235.3 L323.2,241.0 M336.1,235.3 L339.2,241.0" stroke="#cfcfcf" stroke-width="1.5" stroke-linecap="round"/>
<ellipse cx="328.2" cy="202.6" rx="1.4" ry="1.4" fill="#b4b4b4"/><ellipse cx="334.2" cy="202.6" rx="1.4" ry="1.4" fill="#b4b4b4"/>
<path d="M330.54,195.70 L331.86,195.70 C332.18,197.74 333.25,199.78 334.15,201.82 C334.81,203.45 334.48,204.68 335.05,205.90 C335.96,206.72 337.43,207.33 338.01,209.98 C338.58,213.65 338.83,218.14 339.32,222.63 C339.73,226.71 339.40,230.79 338.83,233.24 C338.17,235.68 336.94,236.50 334.48,236.50 L327.92,236.50 C325.46,236.50 324.23,235.68 323.57,233.24 C323.00,230.79 322.67,226.71 323.08,222.63 C323.57,218.14 323.82,213.65 324.39,209.98 C324.97,207.33 326.44,206.72 327.35,205.90 C327.92,204.68 327.59,203.45 328.25,201.82 C329.15,199.78 330.22,197.74 330.63,195.70 Z" fill="url(#mg)"/>
<path d="M330.54,195.70 L331.86,195.70 C332.18,197.74 333.25,199.78 334.15,201.82 C334.81,203.45 334.48,204.68 335.05,205.90 C335.96,206.72 337.43,207.33 338.01,209.98 C338.58,213.65 338.83,218.14 339.32,222.63 C339.73,226.71 339.40,230.79 338.83,233.24 C338.17,235.68 336.94,236.50 334.48,236.50 L327.92,236.50 C325.46,236.50 324.23,235.68 323.57,233.24 C323.00,230.79 322.67,226.71 323.08,222.63 C323.57,218.14 323.82,213.65 324.39,209.98 C324.97,207.33 326.44,206.72 327.35,205.90 C327.92,204.68 327.59,203.45 328.25,201.82 C329.15,199.78 330.22,197.74 330.63,195.70 Z" fill="url(#ms)"/>
</g>
<clipPath id="m4"><path d="M330.51,194.89 L331.89,194.89 C332.23,197.20 333.35,199.30 334.30,201.40 C334.99,203.08 334.64,204.34 335.25,205.60 C336.19,206.44 337.74,207.07 338.35,209.80 C338.95,213.58 339.21,218.20 339.72,222.82 C340.15,227.02 339.81,231.22 339.21,233.74 C338.52,236.26 337.23,237.52 334.64,237.52 L327.76,237.52 C325.17,237.52 323.88,236.26 323.19,233.74 C322.59,231.22 322.25,227.02 322.68,222.82 C323.19,218.20 323.45,213.58 324.05,209.80 C324.66,207.07 326.21,206.44 327.15,205.60 C327.76,204.34 327.41,203.08 328.10,201.40 C329.05,199.30 330.17,197.20 330.60,195.10 Z"/></clipPath>
<g clip-path="url(#m4)" filter="url(#b03)">
<ellipse cx="327.5" cy="219.7" rx="3.1" ry="2.9" fill="#5a18e8" filter="url(#b05)" opacity="1"/>
<ellipse cx="327.3" cy="219.9" rx="1.8" ry="1.6" fill="#2a22f6" filter="url(#b05)" opacity="1"/>
</g>
<g filter="url(#b05)">
<path d="M350.6,236.5 C349.8,238.9 351.8,240.6 350.2,243.4" stroke="#bdbdbd" stroke-width="0.9" fill="none"/>
<path d="M345.8,208.8 L343.4,206.9 M357.0,208.8 L359.4,206.9" stroke="#cfcfcf" stroke-width="1.5" stroke-linecap="round"/>
<path d="M346.5,235.3 L343.4,241.0 M356.3,235.3 L359.4,241.0" stroke="#cfcfcf" stroke-width="1.5" stroke-linecap="round"/>
<ellipse cx="348.4" cy="202.6" rx="1.4" ry="1.4" fill="#b4b4b4"/><ellipse cx="354.4" cy="202.6" rx="1.4" ry="1.4" fill="#b4b4b4"/>
<path d="M350.74,195.70 L352.06,195.70 C352.38,197.74 353.45,199.78 354.35,201.82 C355.01,203.45 354.68,204.68 355.25,205.90 C356.16,206.72 357.63,207.33 358.21,209.98 C358.78,213.65 359.03,218.14 359.52,222.63 C359.93,226.71 359.60,230.79 359.03,233.24 C358.37,235.68 357.14,236.50 354.68,236.50 L348.12,236.50 C345.66,236.50 344.43,235.68 343.77,233.24 C343.20,230.79 342.87,226.71 343.28,222.63 C343.77,218.14 344.02,213.65 344.59,209.98 C345.17,207.33 346.64,206.72 347.55,205.90 C348.12,204.68 347.79,203.45 348.45,201.82 C349.35,199.78 350.42,197.74 350.83,195.70 Z" fill="url(#mg)"/>
<path d="M350.74,195.70 L352.06,195.70 C352.38,197.74 353.45,199.78 354.35,201.82 C355.01,203.45 354.68,204.68 355.25,205.90 C356.16,206.72 357.63,207.33 358.21,209.98 C358.78,213.65 359.03,218.14 359.52,222.63 C359.93,226.71 359.60,230.79 359.03,233.24 C358.37,235.68 357.14,236.50 354.68,236.50 L348.12,236.50 C345.66,236.50 344.43,235.68 343.77,233.24 C343.20,230.79 342.87,226.71 343.28,222.63 C343.77,218.14 344.02,213.65 344.59,209.98 C345.17,207.33 346.64,206.72 347.55,205.90 C348.12,204.68 347.79,203.45 348.45,201.82 C349.35,199.78 350.42,197.74 350.83,195.70 Z" fill="url(#ms)"/>
</g>
</g>
<clipPath id="f7"><rect x="391.4" y="192.7" width="38.4" height="48.7"/></clipPath>
<g clip-path="url(#f7)">
<rect x="391.4" y="192.7" width="38.4" height="48.7" fill="#2c2c2c"/>
<g filter="url(#b05)">
<path d="M400.7,236.0 C399.9,238.7 401.9,240.4 400.3,243.5" stroke="#bdbdbd" stroke-width="0.9" fill="none"/>
<path d="M396.1,205.9 L393.8,204.0 M406.9,205.9 L409.2,204.0" stroke="#cfcfcf" stroke-width="1.5" stroke-linecap="round"/>
<path d="M396.8,234.7 L393.8,240.9 M406.2,234.7 L409.2,240.9" stroke="#cfcfcf" stroke-width="1.5" stroke-linecap="round"/>
<ellipse cx="398.7" cy="199.3" rx="1.3" ry="1.5" fill="#b4b4b4"/><ellipse cx="404.3" cy="199.3" rx="1.3" ry="1.5" fill="#b4b4b4"/>
<path d="M400.87,191.80 L402.13,191.80 C402.45,194.01 403.48,196.22 404.34,198.43 C404.98,200.20 404.66,201.52 405.21,202.85 C406.08,203.73 407.50,204.40 408.06,207.27 C408.61,211.25 408.85,216.11 409.32,220.97 C409.72,225.39 409.40,229.81 408.85,232.46 C408.21,235.12 407.03,236.00 404.66,236.00 L398.34,236.00 C395.97,236.00 394.79,235.12 394.15,232.46 C393.60,229.81 393.28,225.39 393.68,220.97 C394.15,216.11 394.39,211.25 394.94,207.27 C395.50,204.40 396.92,203.73 397.79,202.85 C398.34,201.52 398.02,200.20 398.66,198.43 C399.52,196.22 400.55,194.01 400.95,191.80 Z" fill="url(#mg)"/>
<path d="M400.87,191.80 L402.13,191.80 C402.45,194.01 403.48,196.22 404.34,198.43 C404.98,200.20 404.66,201.52 405.21,202.85 C406.08,203.73 407.50,204.40 408.06,207.27 C408.61,211.25 408.85,216.11 409.32,220.97 C409.72,225.39 409.40,229.81 408.85,232.46 C408.21,235.12 407.03,236.00 404.66,236.00 L398.34,236.00 C395.97,236.00 394.79,235.12 394.15,232.46 C393.60,229.81 393.28,225.39 393.68,220.97 C394.15,216.11 394.39,211.25 394.94,207.27 C395.50,204.40 396.92,203.73 397.79,202.85 C398.34,201.52 398.02,200.20 398.66,198.43 C399.52,196.22 400.55,194.01 400.95,191.80 Z" fill="url(#ms)"/>
</g>
<g filter="url(#b05)">
<path d="M419.5,236.0 C418.6,238.7 420.7,240.4 419.1,243.5" stroke="#bdbdbd" stroke-width="0.9" fill="none"/>
<path d="M414.7,205.9 L412.2,204.0 M425.9,205.9 L428.4,204.0" stroke="#cfcfcf" stroke-width="1.5" stroke-linecap="round"/>
<path d="M415.3,234.7 L412.2,240.9 M425.3,234.7 L428.4,240.9" stroke="#cfcfcf" stroke-width="1.5" stroke-linecap="round"/>
<ellipse cx="417.3" cy="199.3" rx="1.4" ry="1.5" fill="#b4b4b4"/><ellipse cx="423.3" cy="199.3" rx="1.4" ry="1.5" fill="#b4b4b4"/>
<path d="M419.64,191.80 L420.96,191.80 C421.30,194.01 422.38,196.22 423.29,198.43 C423.95,200.20 423.62,201.52 424.20,202.85 C425.11,203.73 426.61,204.40 427.19,207.27 C427.77,211.25 428.02,216.11 428.52,220.97 C428.93,225.39 428.60,229.81 428.02,232.46 C427.36,235.12 426.11,236.00 423.62,236.00 L416.98,236.00 C414.49,236.00 413.25,235.12 412.58,232.46 C412.00,229.81 411.67,225.39 412.08,220.97 C412.58,216.11 412.83,211.25 413.41,207.27 C413.99,204.40 415.49,203.73 416.40,202.85 C416.98,201.52 416.65,200.20 417.31,198.43 C418.23,196.22 419.30,194.01 419.72,191.80 Z" fill="url(#mg)"/>
<path d="M419.64,191.80 L420.96,191.80 C421.30,194.01 422.38,196.22 423.29,198.43 C423.95,200.20 423.62,201.52 424.20,202.85 C425.11,203.73 426.61,204.40 427.19,207.27 C427.77,211.25 428.02,216.11 428.52,220.97 C428.93,225.39 428.60,229.81 428.02,232.46 C427.36,235.12 426.11,236.00 423.62,236.00 L416.98,236.00 C414.49,236.00 413.25,235.12 412.58,232.46 C412.00,229.81 411.67,225.39 412.08,220.97 C412.58,216.11 412.83,211.25 413.41,207.27 C413.99,204.40 415.49,203.73 416.40,202.85 C416.98,201.52 416.65,200.20 417.31,198.43 C418.23,196.22 419.30,194.01 419.72,191.80 Z" fill="url(#ms)"/>
</g>
</g>
<clipPath id="f8"><rect x="434.1" y="192.7" width="37.9" height="48.7"/></clipPath>
<g clip-path="url(#f8)">
<rect x="434.1" y="192.7" width="37.9" height="48.7" fill="#363636"/>
<rect x="434.1" y="192.7" width="20" height="49" fill="#2c2c2c"/>
<g filter="url(#b05)">
<path d="M443.5,236.0 C442.7,238.7 444.7,240.4 443.1,243.5" stroke="#bdbdbd" stroke-width="0.9" fill="none"/>
<path d="M438.9,205.9 L436.5,204.0 M449.7,205.9 L452.1,204.0" stroke="#cfcfcf" stroke-width="1.5" stroke-linecap="round"/>
<path d="M439.5,234.7 L436.5,240.9 M449.1,234.7 L452.1,240.9" stroke="#cfcfcf" stroke-width="1.5" stroke-linecap="round"/>
<ellipse cx="441.4" cy="199.3" rx="1.4" ry="1.5" fill="#b4b4b4"/><ellipse cx="447.2" cy="199.3" rx="1.4" ry="1.5" fill="#b4b4b4"/>
<path d="M443.66,191.80 L444.94,191.80 C445.26,194.01 446.30,196.22 447.18,198.43 C447.82,200.20 447.50,201.52 448.06,202.85 C448.94,203.73 450.38,204.40 450.94,207.27 C451.50,211.25 451.74,216.11 452.22,220.97 C452.62,225.39 452.30,229.81 451.74,232.46 C451.10,235.12 449.90,236.00 447.50,236.00 L441.10,236.00 C438.70,236.00 437.50,235.12 436.86,232.46 C436.30,229.81 435.98,225.39 436.38,220.97 C436.86,216.11 437.10,211.25 437.66,207.27 C438.22,204.40 439.66,203.73 440.54,202.85 C441.10,201.52 440.78,200.20 441.42,198.43 C442.30,196.22 443.34,194.01 443.74,191.80 Z" fill="url(#mg)"/>
<path d="M443.66,191.80 L444.94,191.80 C445.26,194.01 446.30,196.22 447.18,198.43 C447.82,200.20 447.50,201.52 448.06,202.85 C448.94,203.73 450.38,204.40 450.94,207.27 C451.50,211.25 451.74,216.11 452.22,220.97 C452.62,225.39 452.30,229.81 451.74,232.46 C451.10,235.12 449.90,236.00 447.50,236.00 L441.10,236.00 C438.70,236.00 437.50,235.12 436.86,232.46 C436.30,229.81 435.98,225.39 436.38,220.97 C436.86,216.11 437.10,211.25 437.66,207.27 C438.22,204.40 439.66,203.73 440.54,202.85 C441.10,201.52 440.78,200.20 441.42,198.43 C442.30,196.22 443.34,194.01 443.74,191.80 Z" fill="url(#ms)"/>
</g>
</g>
<clipPath id="f9"><rect x="81.3" y="251.5" width="39.3" height="47.4"/></clipPath>
<g clip-path="url(#f9)">
<rect x="81.3" y="251.5" width="39.3" height="47.4" fill="#2c2c2c"/>
<g filter="url(#b05)">
<path d="M90.8,292.0 C90.1,294.3 91.9,295.9 90.4,298.5" stroke="#bdbdbd" stroke-width="0.9" fill="none"/>
<path d="M86.6,265.8 L84.4,264.1 M96.4,265.8 L98.6,264.1" stroke="#cfcfcf" stroke-width="1.5" stroke-linecap="round"/>
<path d="M87.2,290.8 L84.4,296.2 M95.8,290.8 L98.6,296.2" stroke="#cfcfcf" stroke-width="1.5" stroke-linecap="round"/>
<ellipse cx="88.9" cy="260.0" rx="1.2" ry="1.3" fill="#b4b4b4"/><ellipse cx="94.1" cy="260.0" rx="1.2" ry="1.3" fill="#b4b4b4"/>
<path d="M90.92,253.50 L92.08,253.50 C92.36,255.43 93.30,257.35 94.09,259.27 C94.67,260.81 94.38,261.97 94.88,263.12 C95.68,263.89 96.97,264.47 97.48,266.98 C97.98,270.44 98.20,274.68 98.63,278.91 C98.99,282.76 98.70,286.61 98.20,288.92 C97.62,291.23 96.54,292.00 94.38,292.00 L88.62,292.00 C86.46,292.00 85.38,291.23 84.80,288.92 C84.30,286.61 84.01,282.76 84.37,278.91 C84.80,274.68 85.02,270.44 85.52,266.98 C86.03,264.47 87.32,263.89 88.12,263.12 C88.62,261.97 88.33,260.81 88.91,259.27 C89.70,257.35 90.64,255.43 91.00,253.50 Z" fill="url(#mg)"/>
<path d="M90.92,253.50 L92.08,253.50 C92.36,255.43 93.30,257.35 94.09,259.27 C94.67,260.81 94.38,261.97 94.88,263.12 C95.68,263.89 96.97,264.47 97.48,266.98 C97.98,270.44 98.20,274.68 98.63,278.91 C98.99,282.76 98.70,286.61 98.20,288.92 C97.62,291.23 96.54,292.00 94.38,292.00 L88.62,292.00 C86.46,292.00 85.38,291.23 84.80,288.92 C84.30,286.61 84.01,282.76 84.37,278.91 C84.80,274.68 85.02,270.44 85.52,266.98 C86.03,264.47 87.32,263.89 88.12,263.12 C88.62,261.97 88.33,260.81 88.91,259.27 C89.70,257.35 90.64,255.43 91.00,253.50 Z" fill="url(#ms)"/>
</g>
<g filter="url(#b05)">
<path d="M109.5,292.0 C108.8,294.3 110.5,295.9 109.2,298.5" stroke="#bdbdbd" stroke-width="0.9" fill="none"/>
<path d="M105.4,265.8 L103.3,264.1 M115.0,265.8 L117.1,264.1" stroke="#cfcfcf" stroke-width="1.5" stroke-linecap="round"/>
<path d="M106.0,290.8 L103.3,296.2 M114.4,290.8 L117.1,296.2" stroke="#cfcfcf" stroke-width="1.5" stroke-linecap="round"/>
<ellipse cx="107.7" cy="260.0" rx="1.2" ry="1.3" fill="#b4b4b4"/><ellipse cx="112.7" cy="260.0" rx="1.2" ry="1.3" fill="#b4b4b4"/>
<path d="M109.64,253.50 L110.76,253.50 C111.04,255.43 111.95,257.35 112.72,259.27 C113.28,260.81 113.00,261.97 113.49,263.12 C114.26,263.89 115.52,264.47 116.01,266.98 C116.50,270.44 116.71,274.68 117.13,278.91 C117.48,282.76 117.20,286.61 116.71,288.92 C116.15,291.23 115.10,292.00 113.00,292.00 L107.40,292.00 C105.30,292.00 104.25,291.23 103.69,288.92 C103.20,286.61 102.92,282.76 103.27,278.91 C103.69,274.68 103.90,270.44 104.39,266.98 C104.88,264.47 106.14,263.89 106.91,263.12 C107.40,261.97 107.12,260.81 107.68,259.27 C108.45,257.35 109.36,255.43 109.71,253.50 Z" fill="url(#mg)"/>
<path d="M109.64,253.50 L110.76,253.50 C111.04,255.43 111.95,257.35 112.72,259.27 C113.28,260.81 113.00,261.97 113.49,263.12 C114.26,263.89 115.52,264.47 116.01,266.98 C116.50,270.44 116.71,274.68 117.13,278.91 C117.48,282.76 117.20,286.61 116.71,288.92 C116.15,291.23 115.10,292.00 113.00,292.00 L107.40,292.00 C105.30,292.00 104.25,291.23 103.69,288.92 C103.20,286.61 102.92,282.76 103.27,278.91 C103.69,274.68 103.90,270.44 104.39,266.98 C104.88,264.47 106.14,263.89 106.91,263.12 C107.40,261.97 107.12,260.81 107.68,259.27 C108.45,257.35 109.36,255.43 109.71,253.50 Z" fill="url(#ms)"/>
</g>
</g>
<clipPath id="f10"><rect x="126.8" y="248" width="35.6" height="50.7"/></clipPath>
<g clip-path="url(#f10)">
<rect x="126.8" y="248" width="35.6" height="50.7" fill="#2c2c2c"/>
<g filter="url(#b05)">
<path d="M136.5,293.0 C135.8,295.6 137.5,297.3 136.1,300.3" stroke="#bdbdbd" stroke-width="0.9" fill="none"/>
<path d="M132.4,263.8 L130.3,261.8 M142.0,263.8 L144.1,261.8" stroke="#6a5ae8" stroke-width="1.5" stroke-linecap="round"/>
<path d="M133.0,291.7 L130.3,297.7 M141.4,291.7 L144.1,297.7" stroke="#6a5ae8" stroke-width="1.5" stroke-linecap="round"/>
<ellipse cx="134.7" cy="257.3" rx="1.2" ry="1.5" fill="#b4b4b4"/><ellipse cx="139.7" cy="257.3" rx="1.2" ry="1.5" fill="#b4b4b4"/>
<path d="M136.64,250.00 L137.76,250.00 C138.04,252.15 138.95,254.30 139.72,256.45 C140.28,258.17 140.00,259.46 140.49,260.75 C141.26,261.61 142.52,262.25 143.01,265.05 C143.50,268.92 143.71,273.65 144.13,278.38 C144.48,282.68 144.20,286.98 143.71,289.56 C143.15,292.14 142.10,293.00 140.00,293.00 L134.40,293.00 C132.30,293.00 131.25,292.14 130.69,289.56 C130.20,286.98 129.92,282.68 130.27,278.38 C130.69,273.65 130.90,268.92 131.39,265.05 C131.88,262.25 133.14,261.61 133.91,260.75 C134.40,259.46 134.12,258.17 134.68,256.45 C135.45,254.30 136.36,252.15 136.71,250.00 Z" fill="url(#mg)"/>
<path d="M136.64,250.00 L137.76,250.00 C138.04,252.15 138.95,254.30 139.72,256.45 C140.28,258.17 140.00,259.46 140.49,260.75 C141.26,261.61 142.52,262.25 143.01,265.05 C143.50,268.92 143.71,273.65 144.13,278.38 C144.48,282.68 144.20,286.98 143.71,289.56 C143.15,292.14 142.10,293.00 140.00,293.00 L134.40,293.00 C132.30,293.00 131.25,292.14 130.69,289.56 C130.20,286.98 129.92,282.68 130.27,278.38 C130.69,273.65 130.90,268.92 131.39,265.05 C131.88,262.25 133.14,261.61 133.91,260.75 C134.40,259.46 134.12,258.17 134.68,256.45 C135.45,254.30 136.36,252.15 136.71,250.00 Z" fill="url(#ms)"/>
</g>
<clipPath id="m5"><path d="M136.61,249.18 L137.79,249.18 C138.08,251.61 139.04,253.82 139.85,256.03 C140.43,257.80 140.14,259.12 140.65,260.45 C141.46,261.33 142.79,262.00 143.30,264.87 C143.81,268.85 144.04,273.71 144.48,278.57 C144.84,282.99 144.55,287.41 144.04,290.06 C143.45,292.72 142.34,294.04 140.14,294.04 L134.26,294.04 C132.05,294.04 130.95,292.72 130.36,290.06 C129.85,287.41 129.56,282.99 129.92,278.57 C130.36,273.71 130.58,268.85 131.10,264.87 C131.61,262.00 132.94,261.33 133.75,260.45 C134.26,259.12 133.97,257.80 134.55,256.03 C135.36,253.82 136.32,251.61 136.69,249.40 Z"/></clipPath>
<g clip-path="url(#m5)" filter="url(#b03)">
<rect x="128.1" y="248.0" width="18.2" height="53.8" fill="#2a22f6" opacity="0.95"/>
<ellipse cx="137.2" cy="253.5" rx="1.8" ry="2.2" fill="#22d6ea" filter="url(#b05)" opacity="0.9"/>
<ellipse cx="133.7" cy="262" rx="1.6" ry="1.6" fill="#5a18e8" filter="url(#b05)" opacity="0.9"/>
<ellipse cx="141.2" cy="262" rx="1.2" ry="1.8" fill="#ececec" filter="url(#b05)" opacity="0.7"/>
<ellipse cx="132.6" cy="283" rx="1.2" ry="2.2" fill="#ececec" filter="url(#b05)" opacity="0.8"/>
<ellipse cx="141.79999999999998" cy="285" rx="1.2" ry="2.2" fill="#ececec" filter="url(#b05)" opacity="0.8"/>
<ellipse cx="132.2" cy="276" rx="1" ry="1.6" fill="#5a18e8" filter="url(#b05)" opacity="0.9"/>
<ellipse cx="138.2" cy="288" rx="1.6" ry="2.2" fill="#22d6ea" filter="url(#b05)" opacity="0.9"/>
<ellipse cx="134.7" cy="284" rx="1.4" ry="1.6" fill="#22d6ea" filter="url(#b05)" opacity="0.8"/>
<ellipse cx="140.39999999999998" cy="280" rx="1.2" ry="1.6" fill="#22d6ea" filter="url(#b05)" opacity="0.7"/>
<ellipse cx="136.0" cy="271.8" rx="6.0" ry="7.6" fill="#22d6ea" filter="url(#b1)" opacity="1"/>
<ellipse cx="136.0" cy="271.8" rx="4.9" ry="6.0" fill="#38e048" filter="url(#b1)" opacity="1"/>
<ellipse cx="136.0" cy="271.8" rx="3.9" ry="4.4" fill="#f2ea28" filter="url(#b1)" opacity="1" transform="rotate(-30 136.0 271.8)"/>
<ellipse cx="136.0" cy="271.8" rx="3.3" ry="1.7" fill="#f01414" filter="url(#b05)" opacity="1" transform="rotate(-32 136.0 271.8)"/>
<ellipse cx="134.8" cy="272.7" rx="1.7" ry="1.5" fill="#f01414" filter="url(#b05)" opacity="1"/>
</g>
<g filter="url(#b05)">
<path d="M153.1,293.0 C152.4,295.6 154.2,297.3 152.8,300.3" stroke="#bdbdbd" stroke-width="0.9" fill="none"/>
<path d="M149.0,263.8 L146.9,261.8 M158.6,263.8 L160.7,261.8" stroke="#6a5ae8" stroke-width="1.5" stroke-linecap="round"/>
<path d="M149.6,291.7 L146.9,297.7 M158.0,291.7 L160.7,297.7" stroke="#6a5ae8" stroke-width="1.5" stroke-linecap="round"/>
<ellipse cx="151.3" cy="257.3" rx="1.2" ry="1.5" fill="#b4b4b4"/><ellipse cx="156.3" cy="257.3" rx="1.2" ry="1.5" fill="#b4b4b4"/>
<path d="M153.24,250.00 L154.36,250.00 C154.64,252.15 155.55,254.30 156.32,256.45 C156.88,258.17 156.60,259.46 157.09,260.75 C157.86,261.61 159.12,262.25 159.61,265.05 C160.10,268.92 160.31,273.65 160.73,278.38 C161.08,282.68 160.80,286.98 160.31,289.56 C159.75,292.14 158.70,293.00 156.60,293.00 L151.00,293.00 C148.90,293.00 147.85,292.14 147.29,289.56 C146.80,286.98 146.52,282.68 146.87,278.38 C147.29,273.65 147.50,268.92 147.99,265.05 C148.48,262.25 149.74,261.61 150.51,260.75 C151.00,259.46 150.72,258.17 151.28,256.45 C152.05,254.30 152.96,252.15 153.31,250.00 Z" fill="url(#mg)"/>
<path d="M153.24,250.00 L154.36,250.00 C154.64,252.15 155.55,254.30 156.32,256.45 C156.88,258.17 156.60,259.46 157.09,260.75 C157.86,261.61 159.12,262.25 159.61,265.05 C160.10,268.92 160.31,273.65 160.73,278.38 C161.08,282.68 160.80,286.98 160.31,289.56 C159.75,292.14 158.70,293.00 156.60,293.00 L151.00,293.00 C148.90,293.00 147.85,292.14 147.29,289.56 C146.80,286.98 146.52,282.68 146.87,278.38 C147.29,273.65 147.50,268.92 147.99,265.05 C148.48,262.25 149.74,261.61 150.51,260.75 C151.00,259.46 150.72,258.17 151.28,256.45 C152.05,254.30 152.96,252.15 153.31,250.00 Z" fill="url(#ms)"/>
</g>
<clipPath id="m6"><path d="M153.21,249.18 L154.39,249.18 C154.68,251.61 155.64,253.82 156.45,256.03 C157.03,257.80 156.74,259.12 157.25,260.45 C158.06,261.33 159.39,262.00 159.90,264.87 C160.42,268.85 160.64,273.71 161.08,278.57 C161.44,282.99 161.15,287.41 160.64,290.06 C160.05,292.72 158.95,294.04 156.74,294.04 L150.86,294.04 C148.66,294.04 147.55,292.72 146.96,290.06 C146.45,287.41 146.16,282.99 146.52,278.57 C146.96,273.71 147.19,268.85 147.70,264.87 C148.21,262.00 149.54,261.33 150.35,260.45 C150.86,259.12 150.57,257.80 151.15,256.03 C151.96,253.82 152.92,251.61 153.29,249.40 Z"/></clipPath>
<g clip-path="url(#m6)" filter="url(#b03)">
<rect x="144.7" y="248.0" width="18.2" height="53.8" fill="#2a22f6" opacity="0.95"/>
<ellipse cx="153.8" cy="253.5" rx="1.8" ry="2.2" fill="#22d6ea" filter="url(#b05)" opacity="0.9"/>
<ellipse cx="150.3" cy="262" rx="1.6" ry="1.6" fill="#5a18e8" filter="url(#b05)" opacity="0.9"/>
<ellipse cx="157.8" cy="262" rx="1.2" ry="1.8" fill="#ececec" filter="url(#b05)" opacity="0.7"/>
<ellipse cx="149.20000000000002" cy="283" rx="1.2" ry="2.2" fill="#ececec" filter="url(#b05)" opacity="0.8"/>
<ellipse cx="158.4" cy="285" rx="1.2" ry="2.2" fill="#ececec" filter="url(#b05)" opacity="0.8"/>
<ellipse cx="148.8" cy="276" rx="1" ry="1.6" fill="#5a18e8" filter="url(#b05)" opacity="0.9"/>
<ellipse cx="154.8" cy="288" rx="1.6" ry="2.2" fill="#22d6ea" filter="url(#b05)" opacity="0.9"/>
<ellipse cx="151.3" cy="284" rx="1.4" ry="1.6" fill="#22d6ea" filter="url(#b05)" opacity="0.8"/>
<ellipse cx="157.0" cy="280" rx="1.2" ry="1.6" fill="#22d6ea" filter="url(#b05)" opacity="0.7"/>
<ellipse cx="154.4" cy="270.3" rx="6.0" ry="7.6" fill="#22d6ea" filter="url(#b1)" opacity="1"/>
<ellipse cx="154.4" cy="270.3" rx="4.9" ry="6.0" fill="#38e048" filter="url(#b1)" opacity="1"/>
<ellipse cx="154.4" cy="270.3" rx="3.9" ry="4.4" fill="#f2ea28" filter="url(#b1)" opacity="1" transform="rotate(-30 154.4 270.3)"/>
<ellipse cx="154.4" cy="270.3" rx="3.3" ry="1.7" fill="#f01414" filter="url(#b05)" opacity="1" transform="rotate(-32 154.4 270.3)"/>
<ellipse cx="153.20000000000002" cy="271.2" rx="1.7" ry="1.5" fill="#f01414" filter="url(#b05)" opacity="1"/>
</g>
</g>
<clipPath id="f11"><rect x="166.9" y="247.9" width="40.7" height="50.4"/></clipPath>
<g clip-path="url(#f11)">
<rect x="166.9" y="247.9" width="40.7" height="50.4" fill="#2c2c2c"/>
<g filter="url(#b05)">
<path d="M176.7,292.6 C175.9,295.2 178.0,296.9 176.3,299.9" stroke="#bdbdbd" stroke-width="0.9" fill="none"/>
<path d="M171.8,263.4 L169.2,261.4 M183.4,263.4 L186.0,261.4" stroke="#cfcfcf" stroke-width="1.5" stroke-linecap="round"/>
<path d="M172.4,291.3 L169.2,297.3 M182.8,291.3 L186.0,297.3" stroke="#cfcfcf" stroke-width="1.5" stroke-linecap="round"/>
<ellipse cx="174.5" cy="256.9" rx="1.5" ry="1.5" fill="#b4b4b4"/><ellipse cx="180.7" cy="256.9" rx="1.5" ry="1.5" fill="#b4b4b4"/>
<path d="M176.91,249.60 L178.29,249.60 C178.63,251.75 179.75,253.90 180.70,256.05 C181.38,257.77 181.04,259.06 181.64,260.35 C182.59,261.21 184.14,261.86 184.74,264.65 C185.34,268.52 185.60,273.25 186.11,277.98 C186.54,282.28 186.20,286.58 185.60,289.16 C184.91,291.74 183.62,292.60 181.04,292.60 L174.16,292.60 C171.58,292.60 170.29,291.74 169.60,289.16 C169.00,286.58 168.66,282.28 169.09,277.98 C169.60,273.25 169.86,268.52 170.46,264.65 C171.06,261.86 172.61,261.21 173.56,260.35 C174.16,259.06 173.82,257.77 174.50,256.05 C175.45,253.90 176.57,251.75 177.00,249.60 Z" fill="url(#mg)"/>
<path d="M176.91,249.60 L178.29,249.60 C178.63,251.75 179.75,253.90 180.70,256.05 C181.38,257.77 181.04,259.06 181.64,260.35 C182.59,261.21 184.14,261.86 184.74,264.65 C185.34,268.52 185.60,273.25 186.11,277.98 C186.54,282.28 186.20,286.58 185.60,289.16 C184.91,291.74 183.62,292.60 181.04,292.60 L174.16,292.60 C171.58,292.60 170.29,291.74 169.60,289.16 C169.00,286.58 168.66,282.28 169.09,277.98 C169.60,273.25 169.86,268.52 170.46,264.65 C171.06,261.86 172.61,261.21 173.56,260.35 C174.16,259.06 173.82,257.77 174.50,256.05 C175.45,253.90 176.57,251.75 177.00,249.60 Z" fill="url(#ms)"/>
</g>
<clipPath id="m7"><path d="M176.88,248.78 L178.32,248.78 C178.68,251.21 179.86,253.42 180.85,255.63 C181.57,257.40 181.21,258.72 181.84,260.05 C182.84,260.93 184.46,261.60 185.09,264.47 C185.73,268.45 186.00,273.31 186.54,278.17 C186.99,282.59 186.63,287.01 186.00,289.66 C185.28,292.32 183.92,293.64 181.21,293.64 L173.99,293.64 C171.28,293.64 169.92,292.32 169.20,289.66 C168.57,287.01 168.21,282.59 168.66,278.17 C169.20,273.31 169.47,268.45 170.11,264.47 C170.74,261.60 172.36,260.93 173.36,260.05 C173.99,258.72 173.63,257.40 174.35,255.63 C175.34,253.42 176.52,251.21 176.97,249.00 Z"/></clipPath>
<g clip-path="url(#m7)" filter="url(#b03)">
<ellipse cx="173.6" cy="274.4" rx="3.2" ry="2.8" fill="#2a22f6" filter="url(#b05)" opacity="1"/>
<ellipse cx="176" cy="278" rx="2.2" ry="2.6" fill="#2a22f6" filter="url(#b05)" opacity="1"/>
<ellipse cx="177" cy="282" rx="1.5" ry="2.2" fill="#2a22f6" filter="url(#b05)" opacity="0.95"/>
<ellipse cx="177.9" cy="285" rx="1.0" ry="1.2" fill="#2a22f6" filter="url(#b03)" opacity="0.9"/>
<ellipse cx="171.6" cy="271.6" rx="1.4" ry="1.4" fill="#5a18e8" filter="url(#b03)" opacity="0.9"/>
<ellipse cx="177.6" cy="271.6" rx="1.2" ry="1.2" fill="#5a18e8" filter="url(#b03)" opacity="0.7"/>
</g>
<g filter="url(#b05)">
<path d="M197.0,292.6 C196.2,295.2 198.2,296.9 196.6,299.9" stroke="#bdbdbd" stroke-width="0.9" fill="none"/>
<path d="M192.4,263.4 L190.1,261.4 M203.2,263.4 L205.5,261.4" stroke="#cfcfcf" stroke-width="1.5" stroke-linecap="round"/>
<path d="M193.1,291.3 L190.1,297.3 M202.5,291.3 L205.5,297.3" stroke="#cfcfcf" stroke-width="1.5" stroke-linecap="round"/>
<ellipse cx="195.0" cy="256.9" rx="1.3" ry="1.5" fill="#b4b4b4"/><ellipse cx="200.6" cy="256.9" rx="1.3" ry="1.5" fill="#b4b4b4"/>
<path d="M197.17,249.60 L198.43,249.60 C198.75,251.75 199.78,253.90 200.64,256.05 C201.28,257.77 200.96,259.06 201.51,260.35 C202.38,261.21 203.80,261.86 204.36,264.65 C204.91,268.52 205.15,273.25 205.62,277.98 C206.02,282.28 205.70,286.58 205.15,289.16 C204.52,291.74 203.33,292.60 200.96,292.60 L194.64,292.60 C192.27,292.60 191.09,291.74 190.45,289.16 C189.90,286.58 189.58,282.28 189.98,277.98 C190.45,273.25 190.69,268.52 191.24,264.65 C191.80,261.86 193.22,261.21 194.09,260.35 C194.64,259.06 194.32,257.77 194.96,256.05 C195.83,253.90 196.85,251.75 197.25,249.60 Z" fill="url(#mg)"/>
<path d="M197.17,249.60 L198.43,249.60 C198.75,251.75 199.78,253.90 200.64,256.05 C201.28,257.77 200.96,259.06 201.51,260.35 C202.38,261.21 203.80,261.86 204.36,264.65 C204.91,268.52 205.15,273.25 205.62,277.98 C206.02,282.28 205.70,286.58 205.15,289.16 C204.52,291.74 203.33,292.60 200.96,292.60 L194.64,292.60 C192.27,292.60 191.09,291.74 190.45,289.16 C189.90,286.58 189.58,282.28 189.98,277.98 C190.45,273.25 190.69,268.52 191.24,264.65 C191.80,261.86 193.22,261.21 194.09,260.35 C194.64,259.06 194.32,257.77 194.96,256.05 C195.83,253.90 196.85,251.75 197.25,249.60 Z" fill="url(#ms)"/>
</g>
<clipPath id="m8"><path d="M197.14,248.78 L198.46,248.78 C198.80,251.21 199.87,253.42 200.79,255.63 C201.45,257.40 201.12,258.72 201.70,260.05 C202.61,260.93 204.10,261.60 204.68,264.47 C205.27,268.45 205.51,273.31 206.01,278.17 C206.43,282.59 206.09,287.01 205.51,289.66 C204.85,292.32 203.61,293.64 201.12,293.64 L194.48,293.64 C191.99,293.64 190.75,292.32 190.09,289.66 C189.51,287.01 189.17,282.59 189.59,278.17 C190.09,273.31 190.33,268.45 190.92,264.47 C191.50,261.60 192.99,260.93 193.90,260.05 C194.48,258.72 194.15,257.40 194.81,255.63 C195.73,253.42 196.80,251.21 197.22,249.00 Z"/></clipPath>
<g clip-path="url(#m8)" filter="url(#b03)">
<ellipse cx="195.8" cy="257" rx="2.8" ry="2.2" fill="#2a22f6" filter="url(#b05)" opacity="1"/>
<ellipse cx="200.8" cy="262.4" rx="2.2" ry="2.0" fill="#2a22f6" filter="url(#b05)" opacity="0.95"/>
<ellipse cx="198.8" cy="268.4" rx="4.0" ry="3.2" fill="#2a22f6" filter="url(#b05)" opacity="1"/>
<ellipse cx="196.2" cy="272.8" rx="3.4" ry="3.0" fill="#2a22f6" filter="url(#b05)" opacity="1"/>
<ellipse cx="193.8" cy="273.4" rx="1.3" ry="1.3" fill="#22d6ea" filter="url(#b05)" opacity="1"/>
<ellipse cx="198.6" cy="277.4" rx="2.4" ry="3.2" fill="#2a22f6" filter="url(#b05)" opacity="1"/>
<ellipse cx="199.6" cy="282.4" rx="1.9" ry="3.0" fill="#2a22f6" filter="url(#b05)" opacity="0.95"/>
<ellipse cx="202" cy="272" rx="1.6" ry="2.2" fill="#5a18e8" filter="url(#b05)" opacity="0.9"/>
<ellipse cx="198.8" cy="287.4" rx="1.2" ry="1.6" fill="#5a18e8" filter="url(#b03)" opacity="0.9"/>
<ellipse cx="197" cy="263" rx="1.4" ry="1.6" fill="#5a18e8" filter="url(#b05)" opacity="0.7"/>
</g>
</g>
<clipPath id="f12"><rect x="211.9" y="247.9" width="42.1" height="50.4"/></clipPath>
<g clip-path="url(#f12)">
<rect x="211.9" y="247.9" width="42.1" height="50.4" fill="#2c2c2c"/>
<g filter="url(#b05)">
<path d="M224.4,293.0 C223.5,295.6 225.9,297.2 224.0,300.2" stroke="#bdbdbd" stroke-width="0.9" fill="none"/>
<path d="M218.9,264.1 L216.0,262.2 M231.9,264.1 L234.8,262.2" stroke="#6a5ae8" stroke-width="1.5" stroke-linecap="round"/>
<path d="M219.6,291.7 L216.0,297.7 M231.2,291.7 L234.8,297.7" stroke="#6a5ae8" stroke-width="1.5" stroke-linecap="round"/>
<ellipse cx="221.9" cy="257.7" rx="1.6" ry="1.5" fill="#b4b4b4"/><ellipse cx="228.9" cy="257.7" rx="1.6" ry="1.5" fill="#b4b4b4"/>
<path d="M224.63,250.50 L226.17,250.50 C226.55,252.62 227.80,254.75 228.86,256.88 C229.62,258.57 229.24,259.85 229.91,261.12 C230.97,261.98 232.70,262.61 233.37,265.38 C234.04,269.20 234.33,273.88 234.90,278.55 C235.38,282.80 235.00,287.05 234.33,289.60 C233.56,292.15 232.12,293.00 229.24,293.00 L221.56,293.00 C218.68,293.00 217.24,292.15 216.47,289.60 C215.80,287.05 215.42,282.80 215.90,278.55 C216.47,273.88 216.76,269.20 217.43,265.38 C218.10,262.61 219.83,261.98 220.89,261.12 C221.56,259.85 221.18,258.57 221.94,256.88 C223.00,254.75 224.25,252.62 224.73,250.50 Z" fill="url(#mg)"/>
<path d="M224.63,250.50 L226.17,250.50 C226.55,252.62 227.80,254.75 228.86,256.88 C229.62,258.57 229.24,259.85 229.91,261.12 C230.97,261.98 232.70,262.61 233.37,265.38 C234.04,269.20 234.33,273.88 234.90,278.55 C235.38,282.80 235.00,287.05 234.33,289.60 C233.56,292.15 232.12,293.00 229.24,293.00 L221.56,293.00 C218.68,293.00 217.24,292.15 216.47,289.60 C215.80,287.05 215.42,282.80 215.90,278.55 C216.47,273.88 216.76,269.20 217.43,265.38 C218.10,262.61 219.83,261.98 220.89,261.12 C221.56,259.85 221.18,258.57 221.94,256.88 C223.00,254.75 224.25,252.62 224.73,250.50 Z" fill="url(#ms)"/>
</g>
<clipPath id="m9"><path d="M224.59,249.68 L226.21,249.68 C226.61,252.09 227.92,254.27 229.03,256.45 C229.84,258.20 229.43,259.51 230.14,260.82 C231.25,261.70 233.06,262.35 233.77,265.19 C234.47,269.13 234.77,273.94 235.38,278.74 C235.88,283.11 235.48,287.48 234.77,290.10 C233.97,292.73 232.46,294.04 229.43,294.04 L221.37,294.04 C218.34,294.04 216.83,292.73 216.03,290.10 C215.32,287.48 214.92,283.11 215.42,278.74 C216.03,273.94 216.33,269.13 217.03,265.19 C217.74,262.35 219.55,261.70 220.66,260.82 C221.37,259.51 220.96,258.20 221.77,256.45 C222.88,254.27 224.19,252.09 224.69,249.90 Z"/></clipPath>
<g clip-path="url(#m9)" filter="url(#b03)">
<rect x="212.9" y="248.5" width="25.0" height="53.1" fill="#2a22f6" opacity="0.95"/>
<ellipse cx="225.4" cy="254.5" rx="2.4" ry="3" fill="#5a18e8" filter="url(#b05)" opacity="0.9"/>
<ellipse cx="218.6" cy="286" rx="1.6" ry="2.4" fill="#ececec" filter="url(#b05)" opacity="0.8"/>
<ellipse cx="232" cy="287" rx="1.4" ry="2.2" fill="#ececec" filter="url(#b05)" opacity="0.7"/>
<ellipse cx="225" cy="290" rx="2" ry="1.6" fill="#5a18e8" filter="url(#b05)" opacity="0.8"/>
<ellipse cx="225.6" cy="273" rx="9" ry="13" fill="#1a50ff" filter="url(#b1)" opacity="1"/>
<ellipse cx="225.6" cy="272.5" rx="7.6" ry="11.5" fill="#22d6ea" filter="url(#b1)" opacity="1"/>
<ellipse cx="226.4" cy="271.2" rx="6.0" ry="8.6" fill="#38e048" filter="url(#b1)" opacity="1" transform="rotate(-25 226.4 271.2)"/>
<ellipse cx="228.6" cy="267.6" rx="2.2" ry="2.6" fill="#f2ea28" filter="url(#b1)" opacity="0.9"/>
<ellipse cx="222.4" cy="275.4" rx="4.4" ry="4.4" fill="#f2ea28" filter="url(#b05)" opacity="1"/>
<ellipse cx="222.1" cy="275.5" rx="3.3" ry="3.3" fill="#f01414" filter="url(#b03)" opacity="1"/>
<ellipse cx="223" cy="284.6" rx="2.2" ry="1.8" fill="#22d6ea" filter="url(#b05)" opacity="0.9"/>
<ellipse cx="229.5" cy="281.5" rx="2" ry="2" fill="#22d6ea" filter="url(#b05)" opacity="0.8"/>
</g>
<g filter="url(#b05)">
<path d="M244.7,293.0 C243.9,295.6 245.9,297.2 244.3,300.2" stroke="#bdbdbd" stroke-width="0.9" fill="none"/>
<path d="M240.1,264.1 L237.7,262.2 M250.9,264.1 L253.3,262.2" stroke="#a898e8" stroke-width="1.5" stroke-linecap="round"/>
<path d="M240.7,291.7 L237.7,297.7 M250.3,291.7 L253.3,297.7" stroke="#a898e8" stroke-width="1.5" stroke-linecap="round"/>
<ellipse cx="242.6" cy="257.7" rx="1.4" ry="1.5" fill="#b4b4b4"/><ellipse cx="248.4" cy="257.7" rx="1.4" ry="1.5" fill="#b4b4b4"/>
<path d="M244.86,250.50 L246.14,250.50 C246.46,252.62 247.50,254.75 248.38,256.88 C249.02,258.57 248.70,259.85 249.26,261.12 C250.14,261.98 251.58,262.61 252.14,265.38 C252.70,269.20 252.94,273.88 253.42,278.55 C253.82,282.80 253.50,287.05 252.94,289.60 C252.30,292.15 251.10,293.00 248.70,293.00 L242.30,293.00 C239.90,293.00 238.70,292.15 238.06,289.60 C237.50,287.05 237.18,282.80 237.58,278.55 C238.06,273.88 238.30,269.20 238.86,265.38 C239.42,262.61 240.86,261.98 241.74,261.12 C242.30,259.85 241.98,258.57 242.62,256.88 C243.50,254.75 244.54,252.62 244.94,250.50 Z" fill="url(#mg)"/>
<path d="M244.86,250.50 L246.14,250.50 C246.46,252.62 247.50,254.75 248.38,256.88 C249.02,258.57 248.70,259.85 249.26,261.12 C250.14,261.98 251.58,262.61 252.14,265.38 C252.70,269.20 252.94,273.88 253.42,278.55 C253.82,282.80 253.50,287.05 252.94,289.60 C252.30,292.15 251.10,293.00 248.70,293.00 L242.30,293.00 C239.90,293.00 238.70,292.15 238.06,289.60 C237.50,287.05 237.18,282.80 237.58,278.55 C238.06,273.88 238.30,269.20 238.86,265.38 C239.42,262.61 240.86,261.98 241.74,261.12 C242.30,259.85 241.98,258.57 242.62,256.88 C243.50,254.75 244.54,252.62 244.94,250.50 Z" fill="url(#ms)"/>
</g>
<clipPath id="m10"><path d="M244.83,249.68 L246.17,249.68 C246.51,252.09 247.60,254.27 248.52,256.45 C249.20,258.20 248.86,259.51 249.45,260.82 C250.37,261.70 251.88,262.35 252.47,265.19 C253.06,269.13 253.31,273.94 253.82,278.74 C254.24,283.11 253.90,287.48 253.31,290.10 C252.64,292.73 251.38,294.04 248.86,294.04 L242.14,294.04 C239.62,294.04 238.36,292.73 237.69,290.10 C237.10,287.48 236.76,283.11 237.18,278.74 C237.69,273.94 237.94,269.13 238.53,265.19 C239.12,262.35 240.63,261.70 241.55,260.82 C242.14,259.51 241.80,258.20 242.48,256.45 C243.40,254.27 244.49,252.09 244.91,249.90 Z"/></clipPath>
<g clip-path="url(#m10)" filter="url(#b03)">
<rect x="235.1" y="248.5" width="20.8" height="53.1" fill="#5a18e8" opacity="0.8"/>
<ellipse cx="245.5" cy="254.5" rx="2.6" ry="2.6" fill="#ececec" filter="url(#b05)" opacity="0.85"/>
<ellipse cx="241" cy="261" rx="1.6" ry="1.6" fill="#ececec" filter="url(#b05)" opacity="0.8"/>
<ellipse cx="250" cy="261" rx="1.6" ry="1.8" fill="#ececec" filter="url(#b05)" opacity="0.8"/>
<ellipse cx="240.4" cy="286" rx="1.5" ry="3.5" fill="#ececec" filter="url(#b05)" opacity="0.9"/>
<ellipse cx="250.6" cy="285" rx="1.5" ry="4" fill="#ececec" filter="url(#b05)" opacity="0.9"/>
<ellipse cx="245.6" cy="289.6" rx="2.2" ry="1.8" fill="#ececec" filter="url(#b05)" opacity="0.8"/>
<ellipse cx="250.8" cy="271" rx="1.2" ry="2.4" fill="#ececec" filter="url(#b05)" opacity="0.7"/>
<ellipse cx="244.6" cy="273" rx="5.2" ry="8.4" fill="#2a22f6" filter="url(#b1)" opacity="1"/>
<ellipse cx="243.4" cy="274.6" rx="4.4" ry="5.4" fill="#1a50ff" filter="url(#b1)" opacity="1"/>
<ellipse cx="242.4" cy="275.2" rx="3.8" ry="4.2" fill="#22d6ea" filter="url(#b1)" opacity="1"/>
<ellipse cx="241.4" cy="275.4" rx="3.2" ry="3.3" fill="#38e048" filter="url(#b05)" opacity="1"/>
<ellipse cx="240.8" cy="275.5" rx="2.3" ry="2.4" fill="#f01414" filter="url(#b03)" opacity="1"/>
<ellipse cx="246.4" cy="282" rx="1.4" ry="2" fill="#1a50ff" filter="url(#b05)" opacity="0.8"/>
</g>
</g>
<clipPath id="f13"><rect x="279.4" y="248.8" width="35.9" height="47.1"/></clipPath>
<g clip-path="url(#f13)">
<rect x="279.4" y="248.8" width="35.9" height="47.1" fill="#2c2c2c"/>
<g filter="url(#b05)">
<path d="M288.2,291.2 C287.4,293.6 289.4,295.2 287.8,298.1" stroke="#bdbdbd" stroke-width="0.9" fill="none"/>
<path d="M283.6,263.7 L281.2,261.8 M294.4,263.7 L296.8,261.8" stroke="#4a3af0" stroke-width="1.5" stroke-linecap="round"/>
<path d="M284.2,290.0 L281.2,295.7 M293.8,290.0 L296.8,295.7" stroke="#4a3af0" stroke-width="1.5" stroke-linecap="round"/>
<ellipse cx="286.1" cy="257.6" rx="1.4" ry="1.4" fill="#b4b4b4"/><ellipse cx="291.9" cy="257.6" rx="1.4" ry="1.4" fill="#b4b4b4"/>
<path d="M288.36,250.70 L289.64,250.70 C289.96,252.72 291.00,254.75 291.88,256.77 C292.52,258.39 292.20,259.61 292.76,260.82 C293.64,261.63 295.08,262.24 295.64,264.88 C296.20,268.52 296.44,272.97 296.92,277.43 C297.32,281.48 297.00,285.53 296.44,287.96 C295.80,290.39 294.60,291.20 292.20,291.20 L285.80,291.20 C283.40,291.20 282.20,290.39 281.56,287.96 C281.00,285.53 280.68,281.48 281.08,277.43 C281.56,272.97 281.80,268.52 282.36,264.88 C282.92,262.24 284.36,261.63 285.24,260.82 C285.80,259.61 285.48,258.39 286.12,256.77 C287.00,254.75 288.04,252.72 288.44,250.70 Z" fill="url(#mg)"/>
<path d="M288.36,250.70 L289.64,250.70 C289.96,252.72 291.00,254.75 291.88,256.77 C292.52,258.39 292.20,259.61 292.76,260.82 C293.64,261.63 295.08,262.24 295.64,264.88 C296.20,268.52 296.44,272.97 296.92,277.43 C297.32,281.48 297.00,285.53 296.44,287.96 C295.80,290.39 294.60,291.20 292.20,291.20 L285.80,291.20 C283.40,291.20 282.20,290.39 281.56,287.96 C281.00,285.53 280.68,281.48 281.08,277.43 C281.56,272.97 281.80,268.52 282.36,264.88 C282.92,262.24 284.36,261.63 285.24,260.82 C285.80,259.61 285.48,258.39 286.12,256.77 C287.00,254.75 288.04,252.72 288.44,250.70 Z" fill="url(#ms)"/>
</g>
<clipPath id="m11"><path d="M288.33,249.89 L289.67,249.89 C290.01,252.19 291.10,254.27 292.02,256.36 C292.70,258.02 292.36,259.27 292.95,260.52 C293.87,261.36 295.38,261.98 295.97,264.69 C296.56,268.45 296.81,273.03 297.32,277.62 C297.74,281.79 297.40,285.96 296.81,288.46 C296.14,290.97 294.88,292.22 292.36,292.22 L285.64,292.22 C283.12,292.22 281.86,290.97 281.19,288.46 C280.60,285.96 280.26,281.79 280.68,277.62 C281.19,273.03 281.44,268.45 282.03,264.69 C282.62,261.98 284.13,261.36 285.05,260.52 C285.64,259.27 285.30,258.02 285.98,256.36 C286.90,254.27 287.99,252.19 288.41,250.10 Z"/></clipPath>
<g clip-path="url(#m11)" filter="url(#b03)">
<rect x="278.6" y="248.7" width="20.8" height="50.6" fill="#2a22f6" opacity="1"/>
<ellipse cx="289" cy="252.5" rx="2.2" ry="2.2" fill="#22d6ea" filter="url(#b05)" opacity="0.95"/>
<ellipse cx="285.4" cy="256.4" rx="1.6" ry="1.3" fill="#22d6ea" filter="url(#b05)" opacity="0.7"/>
<ellipse cx="292" cy="262" rx="2.2" ry="2.8" fill="#1a50ff" filter="url(#b1)" opacity="0.9"/>
<ellipse cx="291.6" cy="272.6" rx="2.6" ry="4.6" fill="#22d6ea" filter="url(#b1)" opacity="0.85"/>
<ellipse cx="287" cy="268" rx="1.6" ry="2.2" fill="#1a50ff" filter="url(#b1)" opacity="0.8"/>
<ellipse cx="284.2" cy="274.8" rx="2.0" ry="2.2" fill="#38e048" filter="url(#b05)" opacity="1"/>
<ellipse cx="284" cy="274.8" rx="1.0" ry="1.1" fill="#f2ea28" filter="url(#b03)" opacity="1"/>
<ellipse cx="289" cy="286" rx="8" ry="5.6" fill="#5a18e8" filter="url(#b1)" opacity="0.9"/>
<ellipse cx="286" cy="279" rx="1.6" ry="1.6" fill="#22d6ea" filter="url(#b05)" opacity="0.6"/>
</g>
<g filter="url(#b05)">
<path d="M305.9,291.2 C305.1,293.6 307.1,295.2 305.5,298.1" stroke="#bdbdbd" stroke-width="0.9" fill="none"/>
<path d="M301.3,263.7 L298.9,261.8 M312.1,263.7 L314.5,261.8" stroke="#4a3af0" stroke-width="1.5" stroke-linecap="round"/>
<path d="M301.9,290.0 L298.9,295.7 M311.5,290.0 L314.5,295.7" stroke="#4a3af0" stroke-width="1.5" stroke-linecap="round"/>
<ellipse cx="303.8" cy="257.6" rx="1.4" ry="1.4" fill="#b4b4b4"/><ellipse cx="309.6" cy="257.6" rx="1.4" ry="1.4" fill="#b4b4b4"/>
<path d="M306.06,250.70 L307.34,250.70 C307.66,252.72 308.70,254.75 309.58,256.77 C310.22,258.39 309.90,259.61 310.46,260.82 C311.34,261.63 312.78,262.24 313.34,264.88 C313.90,268.52 314.14,272.97 314.62,277.43 C315.02,281.48 314.70,285.53 314.14,287.96 C313.50,290.39 312.30,291.20 309.90,291.20 L303.50,291.20 C301.10,291.20 299.90,290.39 299.26,287.96 C298.70,285.53 298.38,281.48 298.78,277.43 C299.26,272.97 299.50,268.52 300.06,264.88 C300.62,262.24 302.06,261.63 302.94,260.82 C303.50,259.61 303.18,258.39 303.82,256.77 C304.70,254.75 305.74,252.72 306.14,250.70 Z" fill="url(#mg)"/>
<path d="M306.06,250.70 L307.34,250.70 C307.66,252.72 308.70,254.75 309.58,256.77 C310.22,258.39 309.90,259.61 310.46,260.82 C311.34,261.63 312.78,262.24 313.34,264.88 C313.90,268.52 314.14,272.97 314.62,277.43 C315.02,281.48 314.70,285.53 314.14,287.96 C313.50,290.39 312.30,291.20 309.90,291.20 L303.50,291.20 C301.10,291.20 299.90,290.39 299.26,287.96 C298.70,285.53 298.38,281.48 298.78,277.43 C299.26,272.97 299.50,268.52 300.06,264.88 C300.62,262.24 302.06,261.63 302.94,260.82 C303.50,259.61 303.18,258.39 303.82,256.77 C304.70,254.75 305.74,252.72 306.14,250.70 Z" fill="url(#ms)"/>
</g>
<clipPath id="m12"><path d="M306.03,249.89 L307.37,249.89 C307.71,252.19 308.80,254.27 309.72,256.36 C310.40,258.02 310.06,259.27 310.65,260.52 C311.57,261.36 313.08,261.98 313.67,264.69 C314.26,268.45 314.51,273.03 315.02,277.62 C315.44,281.79 315.10,285.96 314.51,288.46 C313.84,290.97 312.58,292.22 310.06,292.22 L303.34,292.22 C300.82,292.22 299.56,290.97 298.89,288.46 C298.30,285.96 297.96,281.79 298.38,277.62 C298.89,273.03 299.14,268.45 299.73,264.69 C300.32,261.98 301.83,261.36 302.75,260.52 C303.34,259.27 303.00,258.02 303.68,256.36 C304.60,254.27 305.69,252.19 306.11,250.10 Z"/></clipPath>
<g clip-path="url(#m12)" filter="url(#b03)">
<rect x="296.3" y="248.7" width="20.8" height="50.6" fill="#2a22f6" opacity="1"/>
<ellipse cx="306.7" cy="253" rx="1.8" ry="1.8" fill="#1a50ff" filter="url(#b05)" opacity="0.9"/>
<ellipse cx="307.2" cy="271.6" rx="5.6" ry="9.6" fill="#1a50ff" filter="url(#b1)" opacity="1"/>
<ellipse cx="307.4" cy="271.4" rx="4.6" ry="8.2" fill="#22d6ea" filter="url(#b1)" opacity="1"/>
<ellipse cx="307.8" cy="270.4" rx="3.4" ry="6.2" fill="#38e048" filter="url(#b1)" opacity="0.95"/>
<ellipse cx="306.7" cy="287" rx="8" ry="5" fill="#5a18e8" filter="url(#b1)" opacity="0.9"/>
<ellipse cx="304.5" cy="281" rx="2" ry="2.2" fill="#22d6ea" filter="url(#b1)" opacity="0.8"/>
</g>
</g>
<clipPath id="f14"><rect x="319.8" y="248.8" width="41.7" height="47.1"/></clipPath>
<g clip-path="url(#f14)">
<rect x="319.8" y="248.8" width="41.7" height="47.1" fill="#2c2c2c"/>
<g filter="url(#b05)">
<path d="M330.8,291.7 C330.0,294.2 332.1,295.9 330.4,298.8" stroke="#bdbdbd" stroke-width="0.9" fill="none"/>
<path d="M325.9,263.5 L323.3,261.6 M337.5,263.5 L340.1,261.6" stroke="#40d8e8" stroke-width="1.5" stroke-linecap="round"/>
<path d="M326.5,290.5 L323.3,296.3 M336.9,290.5 L340.1,296.3" stroke="#40d8e8" stroke-width="1.5" stroke-linecap="round"/>
<ellipse cx="328.6" cy="257.3" rx="1.5" ry="1.5" fill="#b4b4b4"/><ellipse cx="334.8" cy="257.3" rx="1.5" ry="1.5" fill="#b4b4b4"/>
<path d="M331.01,250.20 L332.39,250.20 C332.73,252.27 333.85,254.35 334.80,256.43 C335.48,258.08 335.14,259.33 335.74,260.57 C336.69,261.40 338.24,262.03 338.84,264.72 C339.44,268.46 339.70,273.02 340.21,277.59 C340.64,281.74 340.30,285.89 339.70,288.38 C339.01,290.87 337.72,291.70 335.14,291.70 L328.26,291.70 C325.68,291.70 324.39,290.87 323.70,288.38 C323.10,285.89 322.76,281.74 323.19,277.59 C323.70,273.02 323.96,268.46 324.56,264.72 C325.16,262.03 326.71,261.40 327.66,260.57 C328.26,259.33 327.92,258.08 328.60,256.43 C329.55,254.35 330.67,252.27 331.10,250.20 Z" fill="url(#mg)"/>
<path d="M331.01,250.20 L332.39,250.20 C332.73,252.27 333.85,254.35 334.80,256.43 C335.48,258.08 335.14,259.33 335.74,260.57 C336.69,261.40 338.24,262.03 338.84,264.72 C339.44,268.46 339.70,273.02 340.21,277.59 C340.64,281.74 340.30,285.89 339.70,288.38 C339.01,290.87 337.72,291.70 335.14,291.70 L328.26,291.70 C325.68,291.70 324.39,290.87 323.70,288.38 C323.10,285.89 322.76,281.74 323.19,277.59 C323.70,273.02 323.96,268.46 324.56,264.72 C325.16,262.03 326.71,261.40 327.66,260.57 C328.26,259.33 327.92,258.08 328.60,256.43 C329.55,254.35 330.67,252.27 331.10,250.20 Z" fill="url(#ms)"/>
</g>
<clipPath id="m13"><path d="M330.98,249.39 L332.42,249.39 C332.78,251.73 333.96,253.87 334.95,256.00 C335.67,257.71 335.31,258.99 335.94,260.27 C336.94,261.13 338.56,261.77 339.19,264.55 C339.83,268.39 340.10,273.08 340.64,277.78 C341.09,282.05 340.73,286.32 340.10,288.88 C339.38,291.45 338.02,292.73 335.31,292.73 L328.09,292.73 C325.38,292.73 324.02,291.45 323.30,288.88 C322.67,286.32 322.31,282.05 322.76,277.78 C323.30,273.08 323.57,268.39 324.21,264.55 C324.84,261.77 326.46,261.13 327.46,260.27 C328.09,258.99 327.73,257.71 328.45,256.00 C329.44,253.87 330.62,251.73 331.07,249.60 Z"/></clipPath>
<g clip-path="url(#m13)" filter="url(#b03)">
<rect x="320.5" y="248.2" width="22.4" height="51.9" fill="#22d6ea" opacity="1"/>
<ellipse cx="331.7" cy="252.4" rx="1.8" ry="2.2" fill="#e8a0e0" filter="url(#b05)" opacity="0.9"/>
<ellipse cx="331.7" cy="272" rx="7.6" ry="17" fill="#38e048" filter="url(#b1)" opacity="1"/>
<ellipse cx="331.4" cy="269" rx="5.2" ry="10.5" fill="#f2ea28" filter="url(#b1)" opacity="0.8"/>
<ellipse cx="333.6" cy="263.2" rx="1.9" ry="1.9" fill="#f08018" filter="url(#b05)" opacity="1"/>
<ellipse cx="333.6" cy="263.2" rx="1.0" ry="1.0" fill="#f01414" filter="url(#b03)" opacity="1"/>
<ellipse cx="326.9" cy="277.7" rx="2.0" ry="2.0" fill="#f08018" filter="url(#b05)" opacity="1"/>
<ellipse cx="326.9" cy="277.7" rx="1.1" ry="1.1" fill="#f01414" filter="url(#b03)" opacity="1"/>
<ellipse cx="331.7" cy="290" rx="7" ry="3.4" fill="#22d6ea" filter="url(#b1)" opacity="0.9"/>
<ellipse cx="324.6" cy="262" rx="1.4" ry="3" fill="#1a50ff" filter="url(#b05)" opacity="0.6"/>
<ellipse cx="338.6" cy="284" rx="1.4" ry="3" fill="#1a50ff" filter="url(#b05)" opacity="0.5"/>
</g>
<g filter="url(#b05)">
<path d="M350.0,291.7 C349.2,294.2 351.3,295.9 349.6,298.8" stroke="#bdbdbd" stroke-width="0.9" fill="none"/>
<path d="M345.1,263.5 L342.5,261.6 M356.7,263.5 L359.3,261.6" stroke="#40d8e8" stroke-width="1.5" stroke-linecap="round"/>
<path d="M345.7,290.5 L342.5,296.3 M356.1,290.5 L359.3,296.3" stroke="#40d8e8" stroke-width="1.5" stroke-linecap="round"/>
<ellipse cx="347.8" cy="257.3" rx="1.5" ry="1.5" fill="#b4b4b4"/><ellipse cx="354.0" cy="257.3" rx="1.5" ry="1.5" fill="#b4b4b4"/>
<path d="M350.21,250.20 L351.59,250.20 C351.93,252.27 353.05,254.35 354.00,256.43 C354.68,258.08 354.34,259.33 354.94,260.57 C355.89,261.40 357.44,262.03 358.04,264.72 C358.64,268.46 358.90,273.02 359.41,277.59 C359.84,281.74 359.50,285.89 358.90,288.38 C358.21,290.87 356.92,291.70 354.34,291.70 L347.46,291.70 C344.88,291.70 343.59,290.87 342.90,288.38 C342.30,285.89 341.96,281.74 342.39,277.59 C342.90,273.02 343.16,268.46 343.76,264.72 C344.36,262.03 345.91,261.40 346.86,260.57 C347.46,259.33 347.12,258.08 347.80,256.43 C348.75,254.35 349.87,252.27 350.30,250.20 Z" fill="url(#mg)"/>
<path d="M350.21,250.20 L351.59,250.20 C351.93,252.27 353.05,254.35 354.00,256.43 C354.68,258.08 354.34,259.33 354.94,260.57 C355.89,261.40 357.44,262.03 358.04,264.72 C358.64,268.46 358.90,273.02 359.41,277.59 C359.84,281.74 359.50,285.89 358.90,288.38 C358.21,290.87 356.92,291.70 354.34,291.70 L347.46,291.70 C344.88,291.70 343.59,290.87 342.90,288.38 C342.30,285.89 341.96,281.74 342.39,277.59 C342.90,273.02 343.16,268.46 343.76,264.72 C344.36,262.03 345.91,261.40 346.86,260.57 C347.46,259.33 347.12,258.08 347.80,256.43 C348.75,254.35 349.87,252.27 350.30,250.20 Z" fill="url(#ms)"/>
</g>
<clipPath id="m14"><path d="M350.18,249.39 L351.62,249.39 C351.98,251.73 353.16,253.87 354.15,256.00 C354.87,257.71 354.51,258.99 355.14,260.27 C356.14,261.13 357.76,261.77 358.39,264.55 C359.03,268.39 359.30,273.08 359.84,277.78 C360.29,282.05 359.93,286.32 359.30,288.88 C358.58,291.45 357.22,292.73 354.51,292.73 L347.29,292.73 C344.58,292.73 343.22,291.45 342.50,288.88 C341.87,286.32 341.51,282.05 341.96,277.78 C342.50,273.08 342.77,268.39 343.41,264.55 C344.04,261.77 345.66,261.13 346.66,260.27 C347.29,258.99 346.93,257.71 347.65,256.00 C348.64,253.87 349.82,251.73 350.27,249.60 Z"/></clipPath>
<g clip-path="url(#m14)" filter="url(#b03)">
<rect x="339.7" y="248.2" width="22.4" height="51.9" fill="#22d6ea" opacity="1"/>
<ellipse cx="350.9" cy="274" rx="7.6" ry="15" fill="#38e048" filter="url(#b1)" opacity="1"/>
<ellipse cx="351" cy="268" rx="6.6" ry="11" fill="#f2ea28" filter="url(#b1)" opacity="0.95"/>
<ellipse cx="351.2" cy="261.6" rx="5.0" ry="8.2" fill="#f08018" filter="url(#b1)" opacity="1"/>
<ellipse cx="351.4" cy="261" rx="4.2" ry="7.4" fill="#f01414" filter="url(#b1)" opacity="1"/>
<ellipse cx="345.5" cy="277.7" rx="2.0" ry="2.0" fill="#f08018" filter="url(#b05)" opacity="1"/>
<ellipse cx="345.5" cy="277.7" rx="1.0" ry="1.0" fill="#f01414" filter="url(#b03)" opacity="1"/>
<ellipse cx="351" cy="280" rx="3.4" ry="4.4" fill="#f2ea28" filter="url(#b1)" opacity="0.6"/>
<ellipse cx="350.9" cy="291" rx="7" ry="3" fill="#22d6ea" filter="url(#b1)" opacity="0.9"/>
</g>
</g>
<clipPath id="f15"><rect x="391.4" y="246.8" width="38.4" height="48.1"/></clipPath>
<g clip-path="url(#f15)">
<rect x="391.4" y="246.8" width="38.4" height="48.1" fill="#2c2c2c"/>
<g filter="url(#b05)">
<path d="M400.6,290.1 C399.8,292.6 401.8,294.4 400.2,297.3" stroke="#bdbdbd" stroke-width="0.9" fill="none"/>
<path d="M395.8,261.2 L393.4,259.3 M407.0,261.2 L409.4,259.3" stroke="#5a3af0" stroke-width="1.5" stroke-linecap="round"/>
<path d="M396.5,288.8 L393.4,294.8 M406.3,288.8 L409.4,294.8" stroke="#5a3af0" stroke-width="1.5" stroke-linecap="round"/>
<ellipse cx="398.4" cy="254.8" rx="1.4" ry="1.5" fill="#b4b4b4"/><ellipse cx="404.4" cy="254.8" rx="1.4" ry="1.5" fill="#b4b4b4"/>
<path d="M400.74,247.60 L402.06,247.60 C402.38,249.72 403.45,251.85 404.35,253.97 C405.01,255.67 404.68,256.95 405.25,258.23 C406.16,259.07 407.63,259.71 408.21,262.47 C408.78,266.30 409.03,270.98 409.52,275.65 C409.93,279.90 409.60,284.15 409.03,286.70 C408.37,289.25 407.14,290.10 404.68,290.10 L398.12,290.10 C395.66,290.10 394.43,289.25 393.77,286.70 C393.20,284.15 392.87,279.90 393.28,275.65 C393.77,270.98 394.02,266.30 394.59,262.47 C395.17,259.71 396.64,259.07 397.55,258.23 C398.12,256.95 397.79,255.67 398.45,253.97 C399.35,251.85 400.42,249.72 400.83,247.60 Z" fill="url(#mg)"/>
<path d="M400.74,247.60 L402.06,247.60 C402.38,249.72 403.45,251.85 404.35,253.97 C405.01,255.67 404.68,256.95 405.25,258.23 C406.16,259.07 407.63,259.71 408.21,262.47 C408.78,266.30 409.03,270.98 409.52,275.65 C409.93,279.90 409.60,284.15 409.03,286.70 C408.37,289.25 407.14,290.10 404.68,290.10 L398.12,290.10 C395.66,290.10 394.43,289.25 393.77,286.70 C393.20,284.15 392.87,279.90 393.28,275.65 C393.77,270.98 394.02,266.30 394.59,262.47 C395.17,259.71 396.64,259.07 397.55,258.23 C398.12,256.95 397.79,255.67 398.45,253.97 C399.35,251.85 400.42,249.72 400.83,247.60 Z" fill="url(#ms)"/>
</g>
<clipPath id="m15"><path d="M400.71,246.78 L402.09,246.78 C402.43,249.19 403.55,251.37 404.50,253.56 C405.19,255.30 404.84,256.61 405.45,257.93 C406.39,258.80 407.94,259.45 408.55,262.30 C409.15,266.23 409.41,271.04 409.92,275.84 C410.35,280.21 410.01,284.58 409.41,287.20 C408.72,289.83 407.43,291.14 404.84,291.14 L397.96,291.14 C395.37,291.14 394.08,289.83 393.39,287.20 C392.79,284.58 392.45,280.21 392.88,275.84 C393.39,271.04 393.65,266.23 394.25,262.30 C394.86,259.45 396.41,258.80 397.35,257.93 C397.96,256.61 397.61,255.30 398.30,253.56 C399.25,251.37 400.37,249.19 400.80,247.00 Z"/></clipPath>
<g clip-path="url(#m15)" filter="url(#b03)">
<rect x="390.7" y="245.6" width="21.3" height="53.1" fill="#5a18e8" opacity="0.95"/>
<ellipse cx="401.4" cy="257" rx="8" ry="9" fill="#2a22f6" filter="url(#b1)" opacity="0.8"/>
<ellipse cx="402.0" cy="277.4" rx="7.2" ry="10.4" fill="#f4f4f4" filter="url(#b05)" opacity="1"/>
<ellipse cx="401.6" cy="282" rx="7.6" ry="6.0" fill="#f0f0f0" filter="url(#b05)" opacity="1"/>
<ellipse cx="403" cy="270.5" rx="5.6" ry="3.4" fill="#efefef" filter="url(#b05)" opacity="0.95"/>
<ellipse cx="394.9" cy="275.4" rx="1.8" ry="5.0" fill="#2a22f6" filter="url(#b05)" opacity="1"/>
<ellipse cx="396.6" cy="275.7" rx="1.5" ry="2.4" fill="#22d6ea" filter="url(#b05)" opacity="1"/>
<ellipse cx="396.8" cy="275.9" rx="0.9" ry="1.3" fill="#38e048" filter="url(#b03)" opacity="1"/>
<ellipse cx="398.6" cy="262.5" rx="1.3" ry="1.0" fill="#ececec" filter="url(#b03)" opacity="0.9"/>
<ellipse cx="404" cy="265.4" rx="1.8" ry="1.0" fill="#ececec" filter="url(#b03)" opacity="0.7"/>
<ellipse cx="401.4" cy="291.4" rx="7" ry="1.8" fill="#2a22f6" filter="url(#b05)" opacity="0.9"/>
<ellipse cx="401.4" cy="249.6" rx="1.4" ry="1.6" fill="#1a50ff" filter="url(#b05)" opacity="0.9"/>
</g>
<g filter="url(#b05)">
<path d="M417.8,290.1 C417.0,292.6 419.1,294.4 417.4,297.3" stroke="#bdbdbd" stroke-width="0.9" fill="none"/>
<path d="M412.9,261.2 L410.3,259.3 M424.5,261.2 L427.1,259.3" stroke="#5a3af0" stroke-width="1.5" stroke-linecap="round"/>
<path d="M413.5,288.8 L410.3,294.8 M423.9,288.8 L427.1,294.8" stroke="#5a3af0" stroke-width="1.5" stroke-linecap="round"/>
<ellipse cx="415.6" cy="254.8" rx="1.5" ry="1.5" fill="#b4b4b4"/><ellipse cx="421.8" cy="254.8" rx="1.5" ry="1.5" fill="#b4b4b4"/>
<path d="M418.01,247.60 L419.39,247.60 C419.73,249.72 420.85,251.85 421.80,253.97 C422.48,255.67 422.14,256.95 422.74,258.23 C423.69,259.07 425.24,259.71 425.84,262.47 C426.44,266.30 426.70,270.98 427.21,275.65 C427.64,279.90 427.30,284.15 426.70,286.70 C426.01,289.25 424.72,290.10 422.14,290.10 L415.26,290.10 C412.68,290.10 411.39,289.25 410.70,286.70 C410.10,284.15 409.76,279.90 410.19,275.65 C410.70,270.98 410.96,266.30 411.56,262.47 C412.16,259.71 413.71,259.07 414.66,258.23 C415.26,256.95 414.92,255.67 415.60,253.97 C416.55,251.85 417.67,249.72 418.10,247.60 Z" fill="url(#mg)"/>
<path d="M418.01,247.60 L419.39,247.60 C419.73,249.72 420.85,251.85 421.80,253.97 C422.48,255.67 422.14,256.95 422.74,258.23 C423.69,259.07 425.24,259.71 425.84,262.47 C426.44,266.30 426.70,270.98 427.21,275.65 C427.64,279.90 427.30,284.15 426.70,286.70 C426.01,289.25 424.72,290.10 422.14,290.10 L415.26,290.10 C412.68,290.10 411.39,289.25 410.70,286.70 C410.10,284.15 409.76,279.90 410.19,275.65 C410.70,270.98 410.96,266.30 411.56,262.47 C412.16,259.71 413.71,259.07 414.66,258.23 C415.26,256.95 414.92,255.67 415.60,253.97 C416.55,251.85 417.67,249.72 418.10,247.60 Z" fill="url(#ms)"/>
</g>
<clipPath id="m16"><path d="M417.98,246.78 L419.42,246.78 C419.78,249.19 420.96,251.37 421.95,253.56 C422.67,255.30 422.31,256.61 422.94,257.93 C423.94,258.80 425.56,259.45 426.19,262.30 C426.83,266.23 427.10,271.04 427.64,275.84 C428.09,280.21 427.73,284.58 427.10,287.20 C426.38,289.83 425.02,291.14 422.31,291.14 L415.09,291.14 C412.38,291.14 411.02,289.83 410.30,287.20 C409.67,284.58 409.31,280.21 409.76,275.84 C410.30,271.04 410.57,266.23 411.21,262.30 C411.84,259.45 413.46,258.80 414.46,257.93 C415.09,256.61 414.73,255.30 415.45,253.56 C416.44,251.37 417.62,249.19 418.07,247.00 Z"/></clipPath>
<g clip-path="url(#m16)" filter="url(#b03)">
<rect x="407.5" y="245.6" width="22.4" height="53.1" fill="#5a18e8" opacity="0.97"/>
<ellipse cx="418.7" cy="272" rx="7" ry="14" fill="#2a22f6" filter="url(#b1)" opacity="0.85"/>
<ellipse cx="419.7" cy="249.7" rx="1.8" ry="1.8" fill="#22d6ea" filter="url(#b05)" opacity="1"/>
<ellipse cx="422.5" cy="258.3" rx="1.5" ry="1.7" fill="#22d6ea" filter="url(#b05)" opacity="1"/>
<ellipse cx="413" cy="258.4" rx="1.2" ry="1.2" fill="#22d6ea" filter="url(#b05)" opacity="0.9"/>
<ellipse cx="416.8" cy="290.6" rx="1.7" ry="1.5" fill="#22d6ea" filter="url(#b05)" opacity="1"/>
<ellipse cx="427.3" cy="290.8" rx="1.5" ry="1.5" fill="#22d6ea" filter="url(#b05)" opacity="1"/>
<ellipse cx="428.2" cy="281.4" rx="1.0" ry="1.4" fill="#22d6ea" filter="url(#b05)" opacity="0.9"/>
</g>
</g>
<clipPath id="f16"><rect x="434.1" y="246.8" width="37.9" height="48.1"/></clipPath>
<g clip-path="url(#f16)">
<rect x="434.1" y="246.8" width="37.9" height="48.1" fill="#2c2c2c"/>
<g filter="url(#b05)">
<path d="M443.9,290.1 C443.0,292.6 445.1,294.4 443.4,297.3" stroke="#bdbdbd" stroke-width="0.9" fill="none"/>
<path d="M439.0,261.2 L436.5,259.3 M450.4,261.2 L452.9,259.3" stroke="#5a3af0" stroke-width="1.5" stroke-linecap="round"/>
<path d="M439.7,288.8 L436.5,294.8 M449.7,288.8 L452.9,294.8" stroke="#5a3af0" stroke-width="1.5" stroke-linecap="round"/>
<ellipse cx="441.7" cy="254.8" rx="1.4" ry="1.5" fill="#b4b4b4"/><ellipse cx="447.7" cy="254.8" rx="1.4" ry="1.5" fill="#b4b4b4"/>
<path d="M444.03,247.60 L445.37,247.60 C445.71,249.72 446.80,251.85 447.72,253.97 C448.40,255.67 448.06,256.95 448.65,258.23 C449.57,259.07 451.08,259.71 451.67,262.47 C452.26,266.30 452.51,270.98 453.02,275.65 C453.44,279.90 453.10,284.15 452.51,286.70 C451.84,289.25 450.58,290.10 448.06,290.10 L441.34,290.10 C438.82,290.10 437.56,289.25 436.89,286.70 C436.30,284.15 435.96,279.90 436.38,275.65 C436.89,270.98 437.14,266.30 437.73,262.47 C438.32,259.71 439.83,259.07 440.75,258.23 C441.34,256.95 441.00,255.67 441.68,253.97 C442.60,251.85 443.69,249.72 444.11,247.60 Z" fill="url(#mg)"/>
<path d="M444.03,247.60 L445.37,247.60 C445.71,249.72 446.80,251.85 447.72,253.97 C448.40,255.67 448.06,256.95 448.65,258.23 C449.57,259.07 451.08,259.71 451.67,262.47 C452.26,266.30 452.51,270.98 453.02,275.65 C453.44,279.90 453.10,284.15 452.51,286.70 C451.84,289.25 450.58,290.10 448.06,290.10 L441.34,290.10 C438.82,290.10 437.56,289.25 436.89,286.70 C436.30,284.15 435.96,279.90 436.38,275.65 C436.89,270.98 437.14,266.30 437.73,262.47 C438.32,259.71 439.83,259.07 440.75,258.23 C441.34,256.95 441.00,255.67 441.68,253.97 C442.60,251.85 443.69,249.72 444.11,247.60 Z" fill="url(#ms)"/>
</g>
<clipPath id="m17"><path d="M443.99,246.78 L445.41,246.78 C445.76,249.19 446.90,251.37 447.88,253.56 C448.58,255.30 448.23,256.61 448.85,257.93 C449.82,258.80 451.40,259.45 452.02,262.30 C452.64,266.23 452.90,271.04 453.43,275.84 C453.87,280.21 453.52,284.58 452.90,287.20 C452.20,289.83 450.87,291.14 448.23,291.14 L441.17,291.14 C438.53,291.14 437.20,289.83 436.50,287.20 C435.88,284.58 435.53,280.21 435.97,275.84 C436.50,271.04 436.76,266.23 437.38,262.30 C438.00,259.45 439.58,258.80 440.55,257.93 C441.17,256.61 440.82,255.30 441.52,253.56 C442.50,251.37 443.64,249.19 444.08,247.00 Z"/></clipPath>
<g clip-path="url(#m17)" filter="url(#b03)">
<rect x="433.8" y="245.6" width="21.8" height="53.1" fill="#5a18e8" opacity="0.95"/>
<ellipse cx="444.7" cy="255" rx="5" ry="5" fill="#2a22f6" filter="url(#b1)" opacity="0.7"/>
<ellipse cx="442.0" cy="270.6" rx="5.8" ry="9.6" fill="#f2f2f2" filter="url(#b05)" opacity="1"/>
<ellipse cx="446.6" cy="265.4" rx="4.6" ry="5.0" fill="#f0f0f0" filter="url(#b05)" opacity="0.95"/>
<ellipse cx="444" cy="279.4" rx="5.0" ry="2.8" fill="#eeeeee" filter="url(#b05)" opacity="0.9"/>
<ellipse cx="447.6" cy="275" rx="3.4" ry="3.6" fill="#e6e0f4" filter="url(#b05)" opacity="0.8"/>
<ellipse cx="441" cy="285" rx="2.2" ry="2.4" fill="#e0d8f4" filter="url(#b05)" opacity="0.7"/>
<ellipse cx="438.6" cy="270.8" rx="1.8" ry="3.4" fill="#2a22f6" filter="url(#b05)" opacity="1"/>
<ellipse cx="439" cy="270.8" rx="1.2" ry="1.8" fill="#22d6ea" filter="url(#b05)" opacity="1"/>
<ellipse cx="444.4" cy="266.4" rx="1.3" ry="1.5" fill="#2a22f6" filter="url(#b03)" opacity="0.95"/>
<ellipse cx="446.8" cy="270.4" rx="1.1" ry="1.3" fill="#5a18e8" filter="url(#b03)" opacity="0.95"/>
<ellipse cx="443.4" cy="274.6" rx="1.1" ry="1.1" fill="#2a22f6" filter="url(#b03)" opacity="0.9"/>
<ellipse cx="448.6" cy="263.2" rx="1.1" ry="1.5" fill="#2a22f6" filter="url(#b03)" opacity="0.9"/>
<ellipse cx="445.2" cy="261.2" rx="1.3" ry="1.1" fill="#5a18e8" filter="url(#b03)" opacity="0.9"/>
<ellipse cx="444.7" cy="249.8" rx="1.6" ry="1.8" fill="#2a22f6" filter="url(#b05)" opacity="0.9"/>
</g>
<g filter="url(#b05)">
<path d="M462.2,290.1 C461.4,292.6 463.4,294.4 461.8,297.3" stroke="#bdbdbd" stroke-width="0.9" fill="none"/>
<path d="M457.7,261.2 L455.4,259.3 M468.3,261.2 L470.6,259.3" stroke="#5a3af0" stroke-width="1.5" stroke-linecap="round"/>
<path d="M458.3,288.8 L455.4,294.8 M467.7,288.8 L470.6,294.8" stroke="#5a3af0" stroke-width="1.5" stroke-linecap="round"/>
<ellipse cx="460.2" cy="254.8" rx="1.3" ry="1.5" fill="#b4b4b4"/><ellipse cx="465.8" cy="254.8" rx="1.3" ry="1.5" fill="#b4b4b4"/>
<path d="M462.38,247.60 L463.62,247.60 C463.94,249.72 464.95,251.85 465.81,253.97 C466.43,255.67 466.12,256.95 466.67,258.23 C467.52,259.07 468.93,259.71 469.47,262.47 C470.02,266.30 470.25,270.98 470.72,275.65 C471.11,279.90 470.80,284.15 470.25,286.70 C469.63,289.25 468.46,290.10 466.12,290.10 L459.88,290.10 C457.54,290.10 456.37,289.25 455.75,286.70 C455.20,284.15 454.89,279.90 455.28,275.65 C455.75,270.98 455.98,266.30 456.53,262.47 C457.07,259.71 458.48,259.07 459.33,258.23 C459.88,256.95 459.57,255.67 460.19,253.97 C461.05,251.85 462.06,249.72 462.45,247.60 Z" fill="url(#mg)"/>
<path d="M462.38,247.60 L463.62,247.60 C463.94,249.72 464.95,251.85 465.81,253.97 C466.43,255.67 466.12,256.95 466.67,258.23 C467.52,259.07 468.93,259.71 469.47,262.47 C470.02,266.30 470.25,270.98 470.72,275.65 C471.11,279.90 470.80,284.15 470.25,286.70 C469.63,289.25 468.46,290.10 466.12,290.10 L459.88,290.10 C457.54,290.10 456.37,289.25 455.75,286.70 C455.20,284.15 454.89,279.90 455.28,275.65 C455.75,270.98 455.98,266.30 456.53,262.47 C457.07,259.71 458.48,259.07 459.33,258.23 C459.88,256.95 459.57,255.67 460.19,253.97 C461.05,251.85 462.06,249.72 462.45,247.60 Z" fill="url(#ms)"/>
</g>
<clipPath id="m18"><path d="M462.34,246.78 L463.66,246.78 C463.98,249.19 465.05,251.37 465.95,253.56 C466.60,255.30 466.28,256.61 466.85,257.93 C467.75,258.80 469.22,259.45 469.80,262.30 C470.37,266.23 470.62,271.04 471.11,275.84 C471.52,280.21 471.19,284.58 470.62,287.20 C469.96,289.83 468.73,291.14 466.28,291.14 L459.72,291.14 C457.27,291.14 456.04,289.83 455.38,287.20 C454.81,284.58 454.48,280.21 454.89,275.84 C455.38,271.04 455.63,266.23 456.20,262.30 C456.78,259.45 458.25,258.80 459.15,257.93 C459.72,256.61 459.40,255.30 460.05,253.56 C460.95,251.37 462.02,249.19 462.43,247.00 Z"/></clipPath>
<g clip-path="url(#m18)" filter="url(#b03)">
<rect x="452.9" y="245.6" width="20.3" height="53.1" fill="#5a18e8" opacity="0.97"/>
<ellipse cx="463" cy="270" rx="6" ry="14" fill="#2a22f6" filter="url(#b1)" opacity="0.6"/>
<ellipse cx="470" cy="291" rx="1.5" ry="1.5" fill="#22d6ea" filter="url(#b05)" opacity="1"/>
<ellipse cx="463" cy="250" rx="1.4" ry="1.6" fill="#2a22f6" filter="url(#b05)" opacity="0.8"/>
</g>
</g>
<rect x="257.7" y="196" width="3.4" height="93.8" fill="url(#cb)"/>
<text x="257.7" y="193.6" font-size="2.1" fill="#8a90a8" textLength="13.2" lengthAdjust="spacingAndGlyphs">Luminescence</text>
<text x="263.7" y="196.8" font-size="2" fill="#b8b8c4">2.0</text>
<text x="263.7" y="220.2" font-size="2" fill="#b8b8c4">1.5</text>
<text x="263.7" y="243.7" font-size="2" fill="#b8b8c4">1.0</text>
<text x="263.7" y="267.2" font-size="2" fill="#b8b8c4">0.5</text>
<text x="267.09999999999997" y="241.7" font-size="2" fill="#b8b8c4">x10</text>
<text x="257.8" y="296.5" font-size="2.2" fill="#555" textLength="8.8" lengthAdjust="spacingAndGlyphs">Radiance</text>
<text x="257.8" y="299.7" font-size="2.2" fill="#999" textLength="13.8" lengthAdjust="spacingAndGlyphs">(p/sec/cm2/sr)</text>
<rect x="257.6" y="302.5" width="15.2" height="9.6" fill="#fff" stroke="#777" stroke-width="0.5"/>
<text x="258.5" y="305.5" font-size="2.4" fill="#555">Color Scale</text>
<text x="258.5" y="308.3" font-size="2.4" fill="#555">Min = 1.00e5</text>
<text x="258.5" y="311.1" font-size="2.4" fill="#555">Max = 2.00e6</text>
<rect x="368.3" y="195.7" width="3.4" height="94.6" fill="url(#cb)"/>
<text x="368.3" y="193.29999999999998" font-size="2.1" fill="#8a90a8" textLength="13.2" lengthAdjust="spacingAndGlyphs">Luminescence</text>
<text x="374.3" y="196.5" font-size="2" fill="#b8b8c4">2.0</text>
<text x="374.3" y="220.2" font-size="2" fill="#b8b8c4">1.5</text>
<text x="374.3" y="243.8" font-size="2" fill="#b8b8c4">1.0</text>
<text x="374.3" y="267.4" font-size="2" fill="#b8b8c4">0.5</text>
<text x="377.7" y="241.8" font-size="2" fill="#b8b8c4">x10</text>
<text x="368.40000000000003" y="296.5" font-size="2.2" fill="#555" textLength="8.8" lengthAdjust="spacingAndGlyphs">Radiance</text>
<text x="368.40000000000003" y="299.7" font-size="2.2" fill="#999" textLength="13.8" lengthAdjust="spacingAndGlyphs">(p/sec/cm2/sr)</text>
<rect x="368.5" y="302.5" width="15.2" height="9.6" fill="#fff" stroke="#777" stroke-width="0.5"/>
<text x="369.4" y="305.5" font-size="2.4" fill="#555">Color Scale</text>
<text x="369.4" y="308.3" font-size="2.4" fill="#555">Min = 1.00e5</text>
<text x="369.4" y="311.1" font-size="2.4" fill="#555">Max = 2.00e6</text>
<rect x="478.7" y="194.8" width="3.3" height="95.7" fill="url(#cb)"/>
<text x="478.7" y="192.29999999999998" font-size="2.1" fill="#8a90a8" textLength="13.2" lengthAdjust="spacingAndGlyphs">Luminescence</text>
<text x="484.6" y="195.6" font-size="2" fill="#b8b8c4">2.0</text>
<text x="484.6" y="219.5" font-size="2" fill="#b8b8c4">1.5</text>
<text x="484.6" y="243.5" font-size="2" fill="#b8b8c4">1.0</text>
<text x="484.6" y="267.4" font-size="2" fill="#b8b8c4">0.5</text>
<text x="488.0" y="241.5" font-size="2" fill="#b8b8c4">x10</text>
<text x="478.8" y="296.5" font-size="2.2" fill="#555" textLength="8.8" lengthAdjust="spacingAndGlyphs">Radiance</text>
<text x="478.8" y="299.7" font-size="2.2" fill="#999" textLength="13.8" lengthAdjust="spacingAndGlyphs">(p/sec/cm2/sr)</text>
<rect x="478.8" y="302.5" width="15.2" height="9.6" fill="#fff" stroke="#777" stroke-width="0.5"/>
<text x="479.7" y="305.5" font-size="2.4" fill="#555">Color Scale</text>
<text x="479.7" y="308.3" font-size="2.4" fill="#555">Min = 1.00e5</text>
<text x="479.7" y="311.1" font-size="2.4" fill="#555">Max = 2.00e6</text>
</g>
</svg></body></html>
